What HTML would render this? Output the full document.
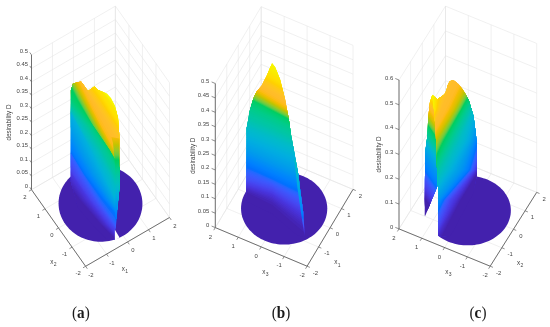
<!DOCTYPE html>
<html><head><meta charset="utf-8"><title>Figure</title>
<style>
html,body{margin:0;padding:0;background:#fff;}
body{width:550px;height:327px;overflow:hidden;}
svg{display:block;}
svg text{font-family:"Liberation Sans",Arial,Helvetica,sans-serif;}
svg text.cap{font-family:"Liberation Serif","Times New Roman",serif;}
</style></head><body>
<svg width="550" height="327" viewBox="0 0 550 327">
<defs>
<clipPath id="c1"><polygon points="70.9,182 70.9,90 73,83.6 81,81.4 83,84 88,91 94.4,86.4 98,90 107,93.6 111,98 115,106 118,118 119.3,135 119.8,185 114.9,229.8 114.9,239.2 100,238 80,215"/></clipPath>
<linearGradient id="g2" gradientUnits="userSpaceOnUse" x1="0" y1="240" x2="0" y2="134"><stop offset="0" stop-color="#4321ad"/><stop offset="0.0142" stop-color="#4628c0"/><stop offset="0.0283" stop-color="#4830d1"/><stop offset="0.0509" stop-color="#4838e1"/><stop offset="0.0736" stop-color="#4742ed"/><stop offset="0.0962" stop-color="#444cf5"/><stop offset="0.1189" stop-color="#3e56fb"/><stop offset="0.1415" stop-color="#355fff"/><stop offset="0.173" stop-color="#2369ff"/><stop offset="0.2044" stop-color="#0073ff"/><stop offset="0.2358" stop-color="#007dff"/><stop offset="0.2673" stop-color="#0086fc"/><stop offset="0.2987" stop-color="#008ff5"/><stop offset="0.3302" stop-color="#0097ef"/><stop offset="0.3679" stop-color="#00a0e9"/><stop offset="0.4057" stop-color="#00a9e4"/><stop offset="0.4434" stop-color="#00b1db"/><stop offset="0.4811" stop-color="#00b7d0"/><stop offset="0.5189" stop-color="#00bdc3"/><stop offset="0.5566" stop-color="#00c1b7"/><stop offset="0.5943" stop-color="#00c4a9"/><stop offset="0.6321" stop-color="#00c89a"/><stop offset="0.6698" stop-color="#00cc89"/><stop offset="0.7075" stop-color="#00cd75"/><stop offset="0.7547" stop-color="#00ce5c"/><stop offset="0.8019" stop-color="#68cc42"/><stop offset="0.8491" stop-color="#9ac924"/><stop offset="0.8962" stop-color="#c1c400"/><stop offset="0.9308" stop-color="#ddc000"/><stop offset="0.9654" stop-color="#f5bc05"/><stop offset="1" stop-color="#ffbb26"/></linearGradient>
<clipPath id="c3"><polygon points="246.6,200 246.6,128 247.1,125.9 249.6,111.2 253.2,99 256.4,91.7 261.8,85.6 266.7,75.8 272.1,63.1 275.2,67.2 280.1,79.4 285,99 288.7,118.6 291.1,135 298.3,174 300.2,190 303.3,212.5 304.8,237 300,236 270,225 250,208"/></clipPath>
<linearGradient id="g4" gradientUnits="userSpaceOnUse" x1="0" y1="238" x2="0" y2="150"><stop offset="0" stop-color="#4321ad"/><stop offset="0.0341" stop-color="#462ac3"/><stop offset="0.0682" stop-color="#4833d8"/><stop offset="0.0909" stop-color="#483ce6"/><stop offset="0.1136" stop-color="#4646f1"/><stop offset="0.1364" stop-color="#4150f8"/><stop offset="0.1676" stop-color="#3a5bfe"/><stop offset="0.1989" stop-color="#2c65ff"/><stop offset="0.2301" stop-color="#0070ff"/><stop offset="0.2614" stop-color="#007bff"/><stop offset="0.3182" stop-color="#0085fc"/><stop offset="0.375" stop-color="#008ef6"/><stop offset="0.4318" stop-color="#0097ef"/><stop offset="0.4886" stop-color="#009eea"/><stop offset="0.5455" stop-color="#00a5e6"/><stop offset="0.6023" stop-color="#00ace1"/><stop offset="0.6591" stop-color="#00b1da"/><stop offset="0.7159" stop-color="#00b7d1"/><stop offset="0.7727" stop-color="#00bbc8"/><stop offset="0.8485" stop-color="#00bfbc"/><stop offset="0.9242" stop-color="#00c3af"/><stop offset="1" stop-color="#00c6a2"/></linearGradient>
<clipPath id="cdisk"><rect x="438" y="100" width="120" height="200"/></clipPath>
<clipPath id="c5"><polygon points="424.7,215.8 425.3,215.8 437.6,185.8 438.2,185 438.2,100 437.6,99.2 432.3,94.8 429.9,102.5 428.2,117.2 427.5,135 425.5,150 424.9,180"/></clipPath>
<clipPath id="c6"><polygon points="438,186 437.6,185 436.5,156 435.7,130.4 434,110 432.3,94.8 434.5,96.8 437.6,99.2 440,97.5 442.6,95.7 444.5,94.3 446.3,90.7 447.7,85.2 449.5,81.5 452.3,79.9 455,81 458.7,84.3 462,88.4 465.5,94 468.9,100.6 473.5,116 476,135 476.9,150 476.6,176 472,200 465,215 450,236 441,236.5 438,235.5"/></clipPath>
</defs>
<rect x="0" y="0" width="550" height="327" fill="#ffffff"/>
<line x1="85.6" y1="266.3" x2="31.5" y2="189.7" stroke="#e3e3e3" stroke-width="0.55"/>
<line x1="85.6" y1="266.3" x2="169.5" y2="217.5" stroke="#e3e3e3" stroke-width="0.55"/>
<line x1="31.5" y1="189.7" x2="31.5" y2="54.9" stroke="#e3e3e3" stroke-width="0.55"/>
<line x1="169.5" y1="217.5" x2="169.5" y2="82.7" stroke="#e3e3e3" stroke-width="0.55"/>
<line x1="106.57" y1="254.1" x2="52.48" y2="177.5" stroke="#e3e3e3" stroke-width="0.55"/>
<line x1="72.07" y1="247.15" x2="155.97" y2="198.35" stroke="#e3e3e3" stroke-width="0.55"/>
<line x1="52.48" y1="177.5" x2="52.48" y2="42.7" stroke="#e3e3e3" stroke-width="0.55"/>
<line x1="155.97" y1="198.35" x2="155.97" y2="63.55" stroke="#e3e3e3" stroke-width="0.55"/>
<line x1="127.55" y1="241.9" x2="73.45" y2="165.3" stroke="#e3e3e3" stroke-width="0.55"/>
<line x1="58.55" y1="228" x2="142.45" y2="179.2" stroke="#e3e3e3" stroke-width="0.55"/>
<line x1="73.45" y1="165.3" x2="73.45" y2="30.5" stroke="#e3e3e3" stroke-width="0.55"/>
<line x1="142.45" y1="179.2" x2="142.45" y2="44.4" stroke="#e3e3e3" stroke-width="0.55"/>
<line x1="148.53" y1="229.7" x2="94.43" y2="153.1" stroke="#e3e3e3" stroke-width="0.55"/>
<line x1="45.02" y1="208.85" x2="128.93" y2="160.05" stroke="#e3e3e3" stroke-width="0.55"/>
<line x1="94.43" y1="153.1" x2="94.43" y2="18.3" stroke="#e3e3e3" stroke-width="0.55"/>
<line x1="128.93" y1="160.05" x2="128.93" y2="25.25" stroke="#e3e3e3" stroke-width="0.55"/>
<line x1="169.5" y1="217.5" x2="115.4" y2="140.9" stroke="#e3e3e3" stroke-width="0.55"/>
<line x1="31.5" y1="189.7" x2="115.4" y2="140.9" stroke="#e3e3e3" stroke-width="0.55"/>
<line x1="115.4" y1="140.9" x2="115.4" y2="6.1" stroke="#e3e3e3" stroke-width="0.55"/>
<line x1="115.4" y1="140.9" x2="115.4" y2="6.1" stroke="#e3e3e3" stroke-width="0.55"/>
<line x1="31.5" y1="189.7" x2="115.4" y2="140.9" stroke="#e3e3e3" stroke-width="0.55"/>
<line x1="115.4" y1="140.9" x2="169.5" y2="217.5" stroke="#e3e3e3" stroke-width="0.55"/>
<line x1="31.5" y1="176.22" x2="115.4" y2="127.42" stroke="#e3e3e3" stroke-width="0.55"/>
<line x1="115.4" y1="127.42" x2="169.5" y2="204.02" stroke="#e3e3e3" stroke-width="0.55"/>
<line x1="31.5" y1="162.74" x2="115.4" y2="113.94" stroke="#e3e3e3" stroke-width="0.55"/>
<line x1="115.4" y1="113.94" x2="169.5" y2="190.54" stroke="#e3e3e3" stroke-width="0.55"/>
<line x1="31.5" y1="149.26" x2="115.4" y2="100.46" stroke="#e3e3e3" stroke-width="0.55"/>
<line x1="115.4" y1="100.46" x2="169.5" y2="177.06" stroke="#e3e3e3" stroke-width="0.55"/>
<line x1="31.5" y1="135.78" x2="115.4" y2="86.98" stroke="#e3e3e3" stroke-width="0.55"/>
<line x1="115.4" y1="86.98" x2="169.5" y2="163.58" stroke="#e3e3e3" stroke-width="0.55"/>
<line x1="31.5" y1="122.3" x2="115.4" y2="73.5" stroke="#e3e3e3" stroke-width="0.55"/>
<line x1="115.4" y1="73.5" x2="169.5" y2="150.1" stroke="#e3e3e3" stroke-width="0.55"/>
<line x1="31.5" y1="108.82" x2="115.4" y2="60.02" stroke="#e3e3e3" stroke-width="0.55"/>
<line x1="115.4" y1="60.02" x2="169.5" y2="136.62" stroke="#e3e3e3" stroke-width="0.55"/>
<line x1="31.5" y1="95.34" x2="115.4" y2="46.54" stroke="#e3e3e3" stroke-width="0.55"/>
<line x1="115.4" y1="46.54" x2="169.5" y2="123.14" stroke="#e3e3e3" stroke-width="0.55"/>
<line x1="31.5" y1="81.86" x2="115.4" y2="33.06" stroke="#e3e3e3" stroke-width="0.55"/>
<line x1="115.4" y1="33.06" x2="169.5" y2="109.66" stroke="#e3e3e3" stroke-width="0.55"/>
<line x1="31.5" y1="68.38" x2="115.4" y2="19.58" stroke="#e3e3e3" stroke-width="0.55"/>
<line x1="115.4" y1="19.58" x2="169.5" y2="96.18" stroke="#e3e3e3" stroke-width="0.55"/>
<line x1="31.5" y1="54.9" x2="115.4" y2="6.1" stroke="#e3e3e3" stroke-width="0.55"/>
<line x1="115.4" y1="6.1" x2="169.5" y2="82.7" stroke="#e3e3e3" stroke-width="0.55"/>
<line x1="307.1" y1="266.2" x2="215.3" y2="227.6" stroke="#e3e3e3" stroke-width="0.55"/>
<line x1="307.1" y1="266.2" x2="353" y2="189.4" stroke="#e3e3e3" stroke-width="0.55"/>
<line x1="215.3" y1="227.6" x2="215.3" y2="83.5" stroke="#e3e3e3" stroke-width="0.55"/>
<line x1="353" y1="189.4" x2="353" y2="45.3" stroke="#e3e3e3" stroke-width="0.55"/>
<line x1="318.58" y1="247" x2="226.78" y2="208.4" stroke="#e3e3e3" stroke-width="0.55"/>
<line x1="284.15" y1="256.55" x2="330.05" y2="179.75" stroke="#e3e3e3" stroke-width="0.55"/>
<line x1="226.78" y1="208.4" x2="226.78" y2="64.3" stroke="#e3e3e3" stroke-width="0.55"/>
<line x1="330.05" y1="179.75" x2="330.05" y2="35.65" stroke="#e3e3e3" stroke-width="0.55"/>
<line x1="330.05" y1="227.8" x2="238.25" y2="189.2" stroke="#e3e3e3" stroke-width="0.55"/>
<line x1="261.2" y1="246.9" x2="307.1" y2="170.1" stroke="#e3e3e3" stroke-width="0.55"/>
<line x1="238.25" y1="189.2" x2="238.25" y2="45.1" stroke="#e3e3e3" stroke-width="0.55"/>
<line x1="307.1" y1="170.1" x2="307.1" y2="26" stroke="#e3e3e3" stroke-width="0.55"/>
<line x1="341.52" y1="208.6" x2="249.72" y2="170" stroke="#e3e3e3" stroke-width="0.55"/>
<line x1="238.25" y1="237.25" x2="284.15" y2="160.45" stroke="#e3e3e3" stroke-width="0.55"/>
<line x1="249.72" y1="170" x2="249.72" y2="25.9" stroke="#e3e3e3" stroke-width="0.55"/>
<line x1="284.15" y1="160.45" x2="284.15" y2="16.35" stroke="#e3e3e3" stroke-width="0.55"/>
<line x1="353" y1="189.4" x2="261.2" y2="150.8" stroke="#e3e3e3" stroke-width="0.55"/>
<line x1="215.3" y1="227.6" x2="261.2" y2="150.8" stroke="#e3e3e3" stroke-width="0.55"/>
<line x1="261.2" y1="150.8" x2="261.2" y2="6.7" stroke="#e3e3e3" stroke-width="0.55"/>
<line x1="261.2" y1="150.8" x2="261.2" y2="6.7" stroke="#e3e3e3" stroke-width="0.55"/>
<line x1="215.3" y1="227.6" x2="261.2" y2="150.8" stroke="#e3e3e3" stroke-width="0.55"/>
<line x1="261.2" y1="150.8" x2="353" y2="189.4" stroke="#e3e3e3" stroke-width="0.55"/>
<line x1="215.3" y1="213.19" x2="261.2" y2="136.39" stroke="#e3e3e3" stroke-width="0.55"/>
<line x1="261.2" y1="136.39" x2="353" y2="174.99" stroke="#e3e3e3" stroke-width="0.55"/>
<line x1="215.3" y1="198.78" x2="261.2" y2="121.98" stroke="#e3e3e3" stroke-width="0.55"/>
<line x1="261.2" y1="121.98" x2="353" y2="160.58" stroke="#e3e3e3" stroke-width="0.55"/>
<line x1="215.3" y1="184.37" x2="261.2" y2="107.57" stroke="#e3e3e3" stroke-width="0.55"/>
<line x1="261.2" y1="107.57" x2="353" y2="146.17" stroke="#e3e3e3" stroke-width="0.55"/>
<line x1="215.3" y1="169.96" x2="261.2" y2="93.16" stroke="#e3e3e3" stroke-width="0.55"/>
<line x1="261.2" y1="93.16" x2="353" y2="131.76" stroke="#e3e3e3" stroke-width="0.55"/>
<line x1="215.3" y1="155.55" x2="261.2" y2="78.75" stroke="#e3e3e3" stroke-width="0.55"/>
<line x1="261.2" y1="78.75" x2="353" y2="117.35" stroke="#e3e3e3" stroke-width="0.55"/>
<line x1="215.3" y1="141.14" x2="261.2" y2="64.34" stroke="#e3e3e3" stroke-width="0.55"/>
<line x1="261.2" y1="64.34" x2="353" y2="102.94" stroke="#e3e3e3" stroke-width="0.55"/>
<line x1="215.3" y1="126.73" x2="261.2" y2="49.93" stroke="#e3e3e3" stroke-width="0.55"/>
<line x1="261.2" y1="49.93" x2="353" y2="88.53" stroke="#e3e3e3" stroke-width="0.55"/>
<line x1="215.3" y1="112.32" x2="261.2" y2="35.52" stroke="#e3e3e3" stroke-width="0.55"/>
<line x1="261.2" y1="35.52" x2="353" y2="74.12" stroke="#e3e3e3" stroke-width="0.55"/>
<line x1="215.3" y1="97.91" x2="261.2" y2="21.11" stroke="#e3e3e3" stroke-width="0.55"/>
<line x1="261.2" y1="21.11" x2="353" y2="59.71" stroke="#e3e3e3" stroke-width="0.55"/>
<line x1="215.3" y1="83.5" x2="261.2" y2="6.7" stroke="#e3e3e3" stroke-width="0.55"/>
<line x1="261.2" y1="6.7" x2="353" y2="45.3" stroke="#e3e3e3" stroke-width="0.55"/>
<line x1="490.2" y1="266.2" x2="399" y2="228.9" stroke="#e3e3e3" stroke-width="0.55"/>
<line x1="490.2" y1="266.2" x2="536.7" y2="192.35" stroke="#e3e3e3" stroke-width="0.55"/>
<line x1="399" y1="228.9" x2="399" y2="80" stroke="#e3e3e3" stroke-width="0.55"/>
<line x1="536.7" y1="192.35" x2="536.7" y2="43.45" stroke="#e3e3e3" stroke-width="0.55"/>
<line x1="501.82" y1="247.74" x2="410.62" y2="210.44" stroke="#e3e3e3" stroke-width="0.55"/>
<line x1="467.4" y1="256.88" x2="513.9" y2="183.03" stroke="#e3e3e3" stroke-width="0.55"/>
<line x1="410.62" y1="210.44" x2="410.62" y2="61.54" stroke="#e3e3e3" stroke-width="0.55"/>
<line x1="513.9" y1="183.03" x2="513.9" y2="34.12" stroke="#e3e3e3" stroke-width="0.55"/>
<line x1="513.45" y1="229.27" x2="422.25" y2="191.98" stroke="#e3e3e3" stroke-width="0.55"/>
<line x1="444.6" y1="247.55" x2="491.1" y2="173.7" stroke="#e3e3e3" stroke-width="0.55"/>
<line x1="422.25" y1="191.98" x2="422.25" y2="43.08" stroke="#e3e3e3" stroke-width="0.55"/>
<line x1="491.1" y1="173.7" x2="491.1" y2="24.8" stroke="#e3e3e3" stroke-width="0.55"/>
<line x1="525.08" y1="210.81" x2="433.88" y2="173.51" stroke="#e3e3e3" stroke-width="0.55"/>
<line x1="421.8" y1="238.22" x2="468.3" y2="164.38" stroke="#e3e3e3" stroke-width="0.55"/>
<line x1="433.88" y1="173.51" x2="433.88" y2="24.61" stroke="#e3e3e3" stroke-width="0.55"/>
<line x1="468.3" y1="164.38" x2="468.3" y2="15.47" stroke="#e3e3e3" stroke-width="0.55"/>
<line x1="536.7" y1="192.35" x2="445.5" y2="155.05" stroke="#e3e3e3" stroke-width="0.55"/>
<line x1="399" y1="228.9" x2="445.5" y2="155.05" stroke="#e3e3e3" stroke-width="0.55"/>
<line x1="445.5" y1="155.05" x2="445.5" y2="6.15" stroke="#e3e3e3" stroke-width="0.55"/>
<line x1="445.5" y1="155.05" x2="445.5" y2="6.15" stroke="#e3e3e3" stroke-width="0.55"/>
<line x1="399" y1="228.9" x2="445.5" y2="155.05" stroke="#e3e3e3" stroke-width="0.55"/>
<line x1="445.5" y1="155.05" x2="536.7" y2="192.35" stroke="#e3e3e3" stroke-width="0.55"/>
<line x1="399" y1="204.08" x2="445.5" y2="130.23" stroke="#e3e3e3" stroke-width="0.55"/>
<line x1="445.5" y1="130.23" x2="536.7" y2="167.53" stroke="#e3e3e3" stroke-width="0.55"/>
<line x1="399" y1="179.27" x2="445.5" y2="105.42" stroke="#e3e3e3" stroke-width="0.55"/>
<line x1="445.5" y1="105.42" x2="536.7" y2="142.72" stroke="#e3e3e3" stroke-width="0.55"/>
<line x1="399" y1="154.45" x2="445.5" y2="80.6" stroke="#e3e3e3" stroke-width="0.55"/>
<line x1="445.5" y1="80.6" x2="536.7" y2="117.9" stroke="#e3e3e3" stroke-width="0.55"/>
<line x1="399" y1="129.63" x2="445.5" y2="55.78" stroke="#e3e3e3" stroke-width="0.55"/>
<line x1="445.5" y1="55.78" x2="536.7" y2="93.08" stroke="#e3e3e3" stroke-width="0.55"/>
<line x1="399" y1="104.82" x2="445.5" y2="30.97" stroke="#e3e3e3" stroke-width="0.55"/>
<line x1="445.5" y1="30.97" x2="536.7" y2="68.27" stroke="#e3e3e3" stroke-width="0.55"/>
<line x1="399" y1="80" x2="445.5" y2="6.15" stroke="#e3e3e3" stroke-width="0.55"/>
<line x1="445.5" y1="6.15" x2="536.7" y2="43.45" stroke="#e3e3e3" stroke-width="0.55"/>
<polygon points="135.74,183.1 134.5,181.45 133.17,179.85 131.75,178.32 130.24,176.86 128.66,175.48 126.99,174.17 125.25,172.94 123.45,171.79 121.58,170.73 119.66,169.76 117.68,168.89 115.65,168.11 113.59,167.43 111.48,166.84 109.35,166.36 107.19,165.98 105.02,165.7 102.83,165.53 100.64,165.46 98.44,165.49 96.25,165.63 94.08,165.87 91.92,166.22 89.78,166.67 87.67,167.22 85.6,167.87 83.57,168.62 81.59,169.46 79.65,170.4 77.78,171.43 75.96,172.54 74.22,173.75 72.55,175.03 70.95,176.39 69.43,177.83 68,179.34 66.66,180.91 65.41,182.55 64.26,184.24 63.2,185.99 62.25,187.78 61.41,189.62 60.67,191.5 60.04,193.41 59.52,195.34 59.11,197.3 58.82,199.28 58.64,201.27 58.57,203.27 58.62,205.26 58.79,207.26 59.07,209.24 59.46,211.21 59.97,213.15 60.58,215.07 61.31,216.96 62.14,218.81 63.08,220.62 64.12,222.38 65.26,224.1 66.5,225.75 67.83,227.35 69.25,228.88 70.76,230.34 72.34,231.72 74.01,233.03 75.75,234.26 77.55,235.41 79.42,236.47 81.34,237.44 83.32,238.31 85.35,239.09 87.41,239.77 89.52,240.36 91.65,240.84 93.81,241.22 95.98,241.5 98.17,241.67 100.36,241.74 102.56,241.71 104.75,241.57 106.92,241.33 109.08,240.98 111.22,240.53 113.33,239.98 115.4,239.33 117.43,238.58 119.41,237.74 121.35,236.8 123.22,235.77 125.04,234.66 126.78,233.45 128.45,232.17 130.05,230.81 131.57,229.37 133,227.86 134.34,226.29 135.59,224.65 136.74,222.96 137.8,221.21 138.75,219.42 139.59,217.58 140.33,215.7 140.96,213.79 141.48,211.86 141.89,209.9 142.18,207.92 142.36,205.93 142.43,203.93 142.38,201.94 142.21,199.94 141.93,197.96 141.54,195.99 141.03,194.05 140.42,192.13 139.69,190.24 138.86,188.39 137.92,186.58 136.88,184.82" fill="#4321ad"/>
<g clip-path="url(#c1)">
<polygon points="300,65 73.15,65 81.72,75 103.14,100 120.81,125 134.74,150 144.92,175 151.35,200 154.04,225 164.13,245 169.18,255 300,255" fill="#f9fb00"/>
<polygon points="82.03,65 90.47,75 111.59,100 129.23,125 143.18,150 153.42,175 159.95,200 162.77,225 173.12,245 178.29,255 169.29,255 164.12,245 153.77,225 150.95,200 144.42,175 134.18,150 120.23,125 102.59,100 81.47,75 73.03,65" fill="#f8f700"/>
<polygon points="81.78,65 89.98,75 110.48,100 128.09,125 142.06,150 152.42,175 159.14,200 162.24,225 173.1,245 178.53,255 169.53,255 164.1,245 153.24,225 150.14,200 143.42,175 133.06,150 119.09,125 101.48,100 80.98,75 72.78,65" fill="#f8f300"/>
<polygon points="81.56,65 89.53,75 109.47,100 126.99,125 140.97,150 151.42,175 158.33,200 161.73,225 173.08,245 178.75,255 169.75,255 164.08,245 152.73,225 149.33,200 142.42,175 131.97,150 117.99,125 100.47,100 80.53,75 72.56,65" fill="#f8f000"/>
<polygon points="81.6,65 89.51,75 109.3,100 126.37,125 140.09,150 150.45,175 157.47,200 161.4,225 173.06,245 178.89,255 169.89,255 164.06,245 152.4,225 148.47,200 141.45,175 131.09,150 117.37,125 100.3,100 80.51,75 72.6,65" fill="#f9ec00"/>
<polygon points="81.64,65 89.49,75 109.13,100 125.75,125 139.2,150 149.49,175 156.61,200 161.06,225 173.04,245 179.02,255 170.02,255 164.04,245 152.06,225 147.61,200 140.49,175 130.2,150 116.75,125 100.13,100 80.49,75 72.64,65" fill="#fae800"/>
<polygon points="81.31,65 88.88,75 107.81,100 123.94,125 137.28,150 147.83,175 155.58,200 160.95,225 173.02,245 179.05,255 170.05,255 164.02,245 151.95,225 146.58,200 138.83,175 128.28,150 114.94,125 98.81,100 79.88,75 72.31,65" fill="#fce400"/>
<polygon points="80.81,65 88.01,75 105.99,100 121.63,125 134.93,150 145.88,175 154.49,200 160.93,225 172.99,245 179.03,255 170.03,255 163.99,245 151.93,225 145.49,200 136.88,175 125.93,150 112.63,125 96.99,100 79.01,75 71.81,65" fill="#ffe000"/>
<polygon points="80.05,65 87.01,75 104.39,100 119.73,125 133.03,150 144.29,175 153.51,200 160.76,225 172.97,245 179.08,255 170.08,255 163.97,245 151.76,225 144.51,200 135.29,175 124.03,150 110.73,125 95.39,100 78.01,75 71.05,65" fill="#ffdc00"/>
<polygon points="78.67,65 85.7,75 103.28,100 118.78,125 132.2,150 143.54,175 152.79,200 160.24,225 172.95,245 179.31,255 170.31,255 163.95,245 151.24,225 143.79,200 134.54,175 123.2,150 109.78,125 94.28,100 76.7,75 69.67,65" fill="#ffd800"/>
<polygon points="77.28,65 84.4,75 102.17,100 117.83,125 131.37,150 142.78,175 152.08,200 159.72,225 172.93,245 179.54,255 170.54,255 163.93,245 150.72,225 143.08,200 133.78,175 122.37,150 108.83,125 93.17,100 75.4,75 68.28,65" fill="#ffd300"/>
<polygon points="75.49,65 82.76,75 100.94,100 116.9,125 130.62,150 142.13,175 151.4,200 159.65,225 172.91,245 179.54,255 170.54,255 163.91,245 150.65,225 142.4,200 133.13,175 121.62,150 107.9,125 91.94,100 73.76,75 66.49,65" fill="#ffcf02"/>
<polygon points="73.65,65 81.09,75 99.7,100 115.96,125 129.89,150 141.48,175 150.73,200 159.63,225 172.89,245 179.52,255 170.52,255 163.89,245 150.63,225 141.73,200 132.48,175 120.89,150 106.96,125 90.7,100 72.09,75 64.65,65" fill="#ffcb0f"/>
<polygon points="72.14,65 79.56,75 98.1,100 114.63,125 128.8,150 140.59,175 150,200 159.61,225 172.87,245 179.5,255 170.5,255 163.87,245 150.61,225 141,200 131.59,175 119.8,150 105.63,125 89.1,100 70.56,75 63.14,65" fill="#ffc719"/>
<polygon points="70.97,65 78.16,75 96.15,100 112.91,125 127.34,150 139.44,175 149.21,200 159.59,225 172.85,245 179.48,255 170.48,255 163.85,245 150.59,225 140.21,200 130.44,175 118.34,150 103.91,125 87.15,100 69.16,75 61.97,65" fill="#ffc421"/>
<polygon points="69.96,65 76.91,75 94.26,100 111.11,125 125.75,150 138.17,175 148.39,200 159.57,225 172.83,245 179.46,255 170.46,255 163.83,245 150.57,225 139.39,200 129.17,175 116.75,150 102.11,125 85.26,100 67.91,75 60.96,65" fill="#ffc027"/>
<polygon points="70.47,65 76.88,75 92.92,100 108.56,125 122.84,150 135.77,175 147.35,200 159.54,225 172.81,245 179.44,255 170.44,255 163.81,245 150.54,225 138.35,200 126.77,175 113.84,150 99.56,125 83.92,100 67.88,75 61.47,65" fill="#ffbd29"/>
<polygon points="70.98,65 76.86,75 91.57,100 106.01,125 119.94,150 133.37,175 146.31,200 159.52,225 172.79,245 179.42,255 170.42,255 163.79,245 150.52,225 137.31,200 124.37,175 110.94,150 97.01,125 82.57,100 67.86,75 61.98,65" fill="#ffbc28"/>
<polygon points="71.03,65 76.49,75 90.15,100 103.86,125 117.62,150 131.43,175 145.29,200 159.5,225 172.77,245 179.4,255 170.4,255 163.77,245 150.5,225 136.29,200 122.43,175 108.62,150 94.86,125 81.15,100 67.49,75 62.03,65" fill="#ffbb20"/>
<polygon points="70.88,65 75.97,75 88.69,100 101.88,125 115.54,150 129.68,175 144.28,200 159.48,225 172.74,245 179.38,255 170.38,255 163.74,245 150.48,225 135.28,200 120.68,175 106.54,150 92.88,125 79.69,100 66.97,75 61.88,65" fill="#fcbc14"/>
<polygon points="70.44,65 75.3,75 87.44,100 100.32,125 113.94,150 128.3,175 143.39,200 159.23,225 172.42,245 179.02,255 170.02,255 163.42,245 150.23,225 134.39,200 119.3,175 104.94,150 91.32,125 78.44,100 66.3,75 61.44,65" fill="#f4bd03"/>
<polygon points="69.33,65 74.29,75 86.69,100 99.73,125 113.43,150 127.78,175 142.77,200 158.42,225 171.41,245 177.9,255 168.9,255 162.41,245 149.42,225 133.77,200 118.78,175 104.43,150 90.73,125 77.69,100 65.29,75 60.33,65" fill="#ebbe00"/>
<polygon points="68.22,65 73.28,75 85.93,100 99.15,125 112.92,150 127.26,175 142.16,200 157.62,225 170.39,245 176.77,255 167.77,255 161.39,245 148.62,225 133.16,200 118.26,175 103.92,150 90.15,125 76.93,100 64.28,75 59.22,65" fill="#e1bf00"/>
<polygon points="67.41,65 72.5,75 85.24,100 98.52,125 112.32,150 126.66,175 141.53,200 156.94,225 169.64,245 176,255 167,255 160.64,245 147.94,225 132.53,200 117.66,175 103.32,150 89.52,125 76.24,100 63.5,75 58.41,65" fill="#d7c100"/>
<polygon points="66.63,65 71.75,75 84.56,100 97.88,125 111.71,150 126.05,175 140.91,200 156.27,225 168.93,245 175.26,255 166.26,255 159.93,245 147.27,225 131.91,200 117.05,175 102.71,150 88.88,125 75.56,100 62.75,75 57.63,65" fill="#ccc300"/>
<polygon points="65.91,65 71.06,75 83.93,100 97.28,125 111.12,150 125.44,175 140.25,200 155.54,225 168.12,245 174.41,255 165.41,255 159.12,245 146.54,225 131.25,200 116.44,175 102.12,150 88.28,125 74.93,100 62.06,75 56.91,65" fill="#c1c400"/>
<polygon points="65.24,65 70.41,75 83.34,100 96.72,125 110.55,150 124.83,175 139.56,200 154.74,225 167.21,245 173.44,255 164.44,255 158.21,245 145.74,225 130.56,200 115.83,175 101.55,150 87.72,125 74.34,100 61.41,75 56.24,65" fill="#b4c60c"/>
<polygon points="64.58,65 69.77,75 82.76,100 96.16,125 110.02,150 124.26,175 138.87,200 153.94,225 166.3,245 172.47,255 163.47,255 157.3,245 144.94,225 129.87,200 115.26,175 101.02,150 87.16,125 73.76,100 60.77,75 55.58,65" fill="#a6c71a"/>
<polygon points="63.91,65 69.13,75 82.17,100 95.6,125 109.83,150 124.1,175 138.18,200 153.14,225 165.38,245 171.5,255 162.5,255 156.38,245 144.14,225 129.18,200 115.1,175 100.83,150 86.6,125 73.17,100 60.13,75 54.91,65" fill="#98c926"/>
<polygon points="63.24,65 68.48,75 81.59,100 95.04,125 109.64,150 123.93,175 137.5,200 152.34,225 164.47,245 170.54,255 161.54,255 155.47,245 143.34,225 128.5,200 114.93,175 100.64,150 86.04,125 72.59,100 59.48,75 54.24,65" fill="#88ca30"/>
<polygon points="62.64,65 67.86,75 80.9,100 94.3,125 109.57,150 123.87,175 136.75,200 151.62,225 163.79,245 169.88,255 160.88,255 154.79,245 142.62,225 127.75,200 114.87,175 100.57,150 85.3,125 71.9,100 58.86,75 53.64,65" fill="#76cb3b"/>
<polygon points="62.08,65 67.24,75 80.16,100 93.49,125 109.55,150 123.85,175 135.99,200 150.93,225 163.21,245 169.35,255 160.35,255 154.21,245 141.93,225 126.99,200 114.85,175 100.55,150 84.49,125 71.16,100 58.24,75 53.08,65" fill="#62cc45"/>
<polygon points="61.49,65 66.61,75 79.41,100 92.86,125 109.53,150 123.83,175 135.45,200 150.26,225 162.66,245 168.86,255 159.86,255 153.66,245 141.26,225 126.45,200 114.83,175 100.53,150 83.86,125 70.41,100 57.61,75 52.49,65" fill="#49cd4e"/>
<polygon points="60.87,65 65.94,75 78.62,100 92.69,125 109.51,150 123.81,175 135.43,200 149.63,225 162.18,245 168.45,255 159.45,255 153.18,245 140.63,225 126.43,200 114.81,175 100.51,150 83.69,125 69.62,100 56.94,75 51.87,65" fill="#22ce57"/>
<polygon points="60.25,65 65.27,75 77.83,100 92.52,125 109.49,150 123.79,175 135.4,200 149.01,225 161.7,245 168.04,255 159.04,255 152.7,245 140.01,225 126.4,200 114.79,175 100.49,150 83.52,125 68.83,100 56.27,75 51.25,65" fill="#00ce60"/>
<polygon points="53.18,65 59.67,75 75.89,100 92.48,125 109.47,150 123.77,175 135.38,200 147.2,225 157.1,245 162.04,255 153.04,255 148.1,245 138.2,225 126.38,200 114.77,175 100.47,150 83.48,125 66.89,100 50.67,75 44.18,65" fill="#00ce69"/>
<polygon points="45.4,65 53.52,75 73.82,100 92.46,125 109.44,150 123.74,175 135.36,200 145.26,225 152.04,245 155.43,255 146.43,255 143.04,245 136.26,225 126.36,200 114.74,175 100.44,150 83.46,125 64.82,100 44.52,75 36.4,65" fill="#00ce71"/>
<polygon points="41.57,65 50.28,75 72.05,100 91.92,125 109.03,150 123.37,175 134.95,200 143.77,225 148.83,245 151.36,255 142.36,255 139.83,245 134.77,225 125.95,200 114.37,175 100.03,150 82.92,125 63.05,100 41.28,75 32.57,65" fill="#00cd79"/>
<polygon points="41.7,65 49.95,75 70.57,100 90.86,125 108.22,150 122.65,175 134.15,200 142.73,225 147.48,245 149.86,255 140.86,255 138.48,245 133.73,225 125.15,200 113.65,175 99.22,150 81.86,125 61.57,100 40.95,75 32.7,65" fill="#00cd80"/>
<polygon points="41.86,65 49.65,75 69.15,100 89.81,125 107.4,150 121.92,175 133.36,200 141.74,225 146.23,245 148.47,255 139.47,255 137.23,245 132.74,225 124.36,200 112.92,175 98.4,150 80.81,125 60.15,100 40.65,75 32.86,65" fill="#00cc88"/>
<polygon points="42.21,65 49.63,75 68.19,100 88.86,125 106.49,150 121.1,175 132.66,200 141.19,225 145.83,245 148.15,255 139.15,255 136.83,245 132.19,225 123.66,200 112.1,175 97.49,150 79.86,125 59.19,100 40.63,75 33.21,65" fill="#00cb8e"/>
<polygon points="42.57,65 49.61,75 67.22,100 87.91,125 105.59,150 120.27,175 131.96,200 140.64,225 145.43,245 147.82,255 138.82,255 136.43,245 131.64,225 122.96,200 111.27,175 96.59,150 78.91,125 58.22,100 40.61,75 33.57,65" fill="#00c995"/>
<polygon points="42.82,65 49.59,75 66.53,100 86.97,125 104.34,150 118.63,175 129.83,200 138.04,225 145.07,245 148.59,255 139.59,255 136.07,245 129.04,225 120.83,200 109.63,175 95.34,150 77.97,125 57.53,100 40.59,75 33.82,65" fill="#00c89b"/>
<polygon points="43.02,65 49.57,75 65.95,100 86.05,125 102.94,150 116.62,175 127.09,200 134.56,225 144.74,245 149.83,255 140.83,255 135.74,245 125.56,225 118.09,200 107.62,175 93.94,150 77.05,125 56.95,100 40.57,75 34.02,65" fill="#00c7a1"/>
<polygon points="43.23,65 49.55,75 65.35,100 85.11,125 101.68,150 115,175 125.05,200 132.12,225 144.5,245 150.69,255 141.69,255 135.5,245 123.12,225 116.05,200 106,175 92.68,150 76.11,125 56.35,100 40.55,75 34.23,65" fill="#00c5a6"/>
<polygon points="43.45,65 49.53,75 64.73,100 84.13,125 100.75,150 114.25,175 124.63,200 132.1,225 144.48,245 150.67,255 141.67,255 135.48,245 123.1,225 115.63,200 105.25,175 91.75,150 75.13,125 55.73,100 40.53,75 34.45,65" fill="#00c4ab"/>
<polygon points="43.67,65 49.51,75 64.11,100 83.14,125 99.81,150 113.5,175 124.2,200 132.08,225 144.46,245 150.65,255 141.65,255 135.46,245 123.08,225 115.2,200 104.5,175 90.81,150 74.14,125 55.11,100 40.51,75 34.67,65" fill="#00c2b1"/>
<polygon points="43.67,65 49.49,75 64.03,100 82.16,125 98.88,150 112.75,175 123.78,200 132.06,225 144.44,245 150.62,255 141.62,255 135.44,245 123.06,225 114.78,200 103.75,175 89.88,150 73.16,125 55.03,100 40.49,75 34.67,65" fill="#00c1b5"/>
<polygon points="43.65,65 49.47,75 64.01,100 81.18,125 97.94,150 112,175 123.36,200 132.04,225 144.42,245 150.6,255 141.6,255 135.42,245 123.04,225 114.36,200 103,175 88.94,150 72.18,125 55.01,100 40.47,75 34.65,65" fill="#00c0ba"/>
<polygon points="43.63,65 49.45,75 63.99,100 80.19,125 96.99,150 111.2,175 122.84,200 131.91,225 144.39,245 150.64,255 141.64,255 135.39,245 122.91,225 113.84,200 102.2,175 87.99,150 71.19,125 54.99,100 40.45,75 34.63,65" fill="#00bebf"/>
<polygon points="43.61,65 49.42,75 63.97,100 79.21,125 96.01,150 110.35,175 122.24,200 131.67,225 144.37,245 150.72,255 141.72,255 135.37,245 122.67,225 113.24,200 101.35,175 87.01,150 70.21,125 54.97,100 40.42,75 34.61,65" fill="#00bcc4"/>
<polygon points="43.59,65 49.4,75 63.95,100 78.31,125 95.01,150 109.45,175 121.55,200 131.34,225 144.35,245 150.86,255 141.86,255 135.35,245 122.34,225 112.55,200 100.45,175 86.01,150 69.31,125 54.95,100 40.4,75 34.59,65" fill="#00bbc8"/>
<polygon points="43.56,65 49.38,75 63.93,100 78.07,125 93.85,150 108.16,175 120.21,200 130.14,225 144.33,245 151.43,255 142.43,255 135.33,245 121.14,225 111.21,200 99.16,175 84.85,150 69.07,125 54.93,100 40.38,75 34.56,65" fill="#00b9cd"/>
<polygon points="43.54,65 49.36,75 63.91,100 77.83,125 92.69,150 106.88,175 118.86,200 128.95,225 144.31,245 151.99,255 142.99,255 135.31,245 119.95,225 109.86,200 97.88,175 83.69,150 68.83,125 54.91,100 40.36,75 34.54,65" fill="#00b7d1"/>
<polygon points="43.52,65 49.34,75 63.89,100 77.74,125 91.91,150 105.58,175 117.49,200 128.57,225 144.29,245 152.15,255 143.15,255 135.29,245 119.57,225 108.49,200 96.58,175 82.91,150 68.74,125 54.89,100 40.34,75 34.52,65" fill="#00b5d5"/>
<polygon points="43.5,65 49.32,75 63.86,100 77.72,125 91.3,150 104.27,175 116.11,200 128.55,225 144.27,245 152.13,255 143.13,255 135.27,245 119.55,225 107.11,200 95.27,175 82.3,150 68.72,125 54.86,100 40.32,75 34.5,65" fill="#00b2d9"/>
<polygon points="43.51,65 49.24,75 63.57,100 77.32,125 90.49,150 103.08,175 115.09,200 128.53,225 144.25,245 152.11,255 143.11,255 135.25,245 119.53,225 106.09,200 94.08,175 81.49,150 68.32,125 54.57,100 40.24,75 34.51,65" fill="#00b0dd"/>
<polygon points="43.57,65 49.02,75 62.64,100 76.04,125 89.23,150 102.19,175 114.93,200 128.51,225 144.23,245 152.09,255 143.09,255 135.23,245 119.51,225 105.93,200 93.19,175 80.23,150 67.04,125 53.64,100 40.02,75 34.57,65" fill="#00ade0"/>
<polygon points="43.63,65 48.8,75 61.71,100 74.77,125 87.96,150 101.3,175 114.78,200 128.49,225 144.21,245 152.07,255 143.07,255 135.21,245 119.49,225 105.78,200 92.3,175 78.96,150 65.77,125 52.71,100 39.8,75 34.63,65" fill="#00aae2"/>
<polygon points="43.2,65 48.2,75 60.72,100 73.58,125 86.76,150 100.28,175 114.14,200 128.32,225 144.19,245 152.12,255 143.12,255 135.19,245 119.32,225 105.14,200 91.28,175 77.76,150 64.58,125 51.72,100 39.2,75 34.2,65" fill="#00a7e5"/>
<polygon points="42.71,65 47.57,75 59.73,100 72.4,125 85.57,150 99.25,175 113.45,200 128.14,225 144.17,245 152.18,255 143.18,255 135.17,245 119.14,225 104.45,200 90.25,175 76.57,150 63.4,125 50.73,100 38.57,75 33.71,65" fill="#00a4e6"/>
<polygon points="42.2,65 46.93,75 58.73,100 71.22,125 84.38,150 98.23,175 112.75,200 127.96,225 144.14,245 152.24,255 143.24,255 135.14,245 118.96,225 103.75,200 89.23,175 75.38,150 62.22,125 49.73,100 37.93,75 33.2,65" fill="#00a1e8"/>
<polygon points="41.68,65 46.27,75 57.73,100 70.04,125 83.2,150 97.21,175 112.07,200 127.78,225 144.12,245 152.3,255 143.3,255 135.12,245 118.78,225 103.07,200 88.21,175 74.2,150 61.04,125 48.73,100 37.27,75 32.68,65" fill="#009eea"/>
<polygon points="41.17,65 45.62,75 56.73,100 68.86,125 82.01,150 96.19,175 111.38,200 127.59,225 144.1,245 152.36,255 143.36,255 135.1,245 118.59,225 102.38,200 87.19,175 73.01,150 59.86,125 47.73,100 36.62,75 32.17,65" fill="#009bec"/>
<polygon points="40.69,65 45,75 55.79,100 67.74,125 80.88,150 95.19,175 110.68,200 127.34,225 144.08,245 152.45,255 143.45,255 135.08,245 118.34,225 101.68,200 86.19,175 71.88,150 58.74,125 46.79,100 36,75 31.69,65" fill="#0098ee"/>
<polygon points="40.21,65 44.39,75 54.84,100 66.63,125 79.74,150 94.2,175 109.98,200 127.1,225 144.06,245 152.54,255 143.54,255 135.06,245 118.1,225 100.98,200 85.2,175 70.74,150 57.63,125 45.84,100 35.39,75 31.21,65" fill="#0095f1"/>
<polygon points="39.76,65 43.8,75 53.91,100 65.51,125 78.6,150 93.2,175 109.29,200 126.88,225 144.04,245 152.62,255 143.62,255 135.04,245 117.88,225 100.29,200 84.2,175 69.6,150 56.51,125 44.91,100 34.8,75 30.76,65" fill="#0091f3"/>
<polygon points="39.32,65 43.22,75 52.97,100 64.39,125 77.46,150 92.2,175 108.6,200 126.66,225 144.02,245 152.7,255 143.7,255 135.02,245 117.66,225 99.6,200 83.2,175 68.46,150 55.39,125 43.97,100 34.22,75 30.32,65" fill="#008ef6"/>
<polygon points="38.89,65 42.65,75 52.04,100 63.27,125 76.32,150 91.2,175 107.91,200 126.45,225 144,245 152.77,255 143.77,255 135,245 117.45,225 98.91,200 82.2,175 67.32,150 54.27,125 43.04,100 33.65,75 29.89,65" fill="#008af9"/>
<polygon points="38.46,65 42.08,75 51.11,100 62.15,125 75.18,150 90.2,175 107.22,200 126.24,225 143.98,245 152.85,255 143.85,255 134.98,245 117.24,225 98.22,200 81.2,175 66.18,150 53.15,125 42.11,100 33.08,75 29.46,65" fill="#0086fb"/>
<polygon points="38.04,65 41.51,75 50.19,100 61.03,125 74.03,150 89.2,175 106.53,200 126.03,225 143.96,245 152.92,255 143.92,255 134.96,245 117.03,225 97.53,200 80.2,175 65.03,150 52.03,125 41.19,100 32.51,75 29.04,65" fill="#0083fd"/>
<polygon points="37.59,65 40.93,75 49.25,100 59.91,125 72.89,150 88.21,175 105.85,200 125.82,225 143.94,245 152.99,255 143.99,255 134.94,245 116.82,225 96.85,200 79.21,175 63.89,150 50.91,125 40.25,100 31.93,75 28.59,65" fill="#007fff"/>
<polygon points="37.15,65 40.34,75 48.32,100 58.79,125 71.75,150 87.21,175 105.16,200 125.61,225 143.92,245 153.07,255 144.07,255 134.92,245 116.61,225 96.16,200 78.21,175 62.75,150 49.79,125 39.32,100 31.34,75 28.15,65" fill="#007bff"/>
<polygon points="36.8,65 39.87,75 47.54,100 57.83,125 70.75,150 86.29,175 104.45,200 125.24,225 143.77,245 153.03,255 144.03,255 134.77,245 116.24,225 95.45,200 77.29,175 61.75,150 48.83,125 38.54,100 30.87,75 27.8,65" fill="#0077ff"/>
<polygon points="36.55,65 39.51,75 46.91,100 57.04,125 69.88,150 85.44,175 103.73,200 124.73,225 143.49,245 152.87,255 143.87,255 134.49,245 115.73,225 94.73,200 76.44,175 60.88,150 48.04,125 37.91,100 30.51,75 27.55,65" fill="#0072ff"/>
<polygon points="35.96,65 38.89,75 46.22,100 56.29,125 69.09,150 84.64,175 102.92,200 123.94,225 142.72,245 152.12,255 143.12,255 133.72,245 114.94,225 93.92,200 75.64,175 60.09,150 47.29,125 37.22,100 29.89,75 26.96,65" fill="#086eff"/>
<polygon points="32.43,65 36,75 44.93,100 55.94,125 69.01,150 84.16,175 101.38,200 120.67,225 137.59,245 146.05,255 137.05,255 128.59,245 111.67,225 92.38,200 75.16,175 60.01,150 46.94,125 35.93,100 27,75 23.43,65" fill="#1f6aff"/>
<polygon points="28.9,65 33.12,75 43.65,100 55.59,125 68.93,150 83.68,175 99.83,200 117.4,225 132.46,245 139.99,255 130.99,255 123.46,245 108.4,225 90.83,200 74.68,175 59.93,150 46.59,125 34.65,100 24.12,75 19.9,65" fill="#2966ff"/>
<polygon points="27.49,65 31.84,75 42.69,100 54.82,125 68.22,150 82.89,175 98.83,200 116.04,225 130.72,245 138.06,255 129.06,255 121.72,245 107.04,225 89.83,200 73.89,175 59.22,150 45.82,125 33.69,100 22.84,75 18.49,65" fill="#3162ff"/>
<polygon points="26.99,65 31.24,75 41.88,100 53.87,125 67.23,150 81.96,175 98.05,200 115.5,225 130.45,245 137.92,255 128.92,255 121.45,245 106.5,225 89.05,200 72.96,175 58.23,150 44.87,125 32.88,100 22.24,75 17.99,65" fill="#365eff"/>
<polygon points="26.49,65 30.65,75 41.06,100 52.93,125 66.25,150 81.03,175 97.27,200 114.96,225 130.17,245 137.77,255 128.77,255 121.17,245 105.96,225 88.27,200 72.03,175 57.25,150 43.93,125 32.06,100 21.65,75 17.49,65" fill="#3a5afe"/>
<polygon points="25.98,65 30.06,75 40.24,100 51.98,125 65.27,150 80.1,175 96.49,200 114.43,225 129.89,245 137.62,255 128.62,255 120.89,245 105.43,225 87.49,200 71.1,175 56.27,150 42.98,125 31.24,100 21.06,75 16.98,65" fill="#3e56fc"/>
<polygon points="25.48,65 29.47,75 39.43,100 51.04,125 64.28,150 79.18,175 95.71,200 113.89,225 129.61,245 137.48,255 128.48,255 120.61,245 104.89,225 86.71,200 70.18,175 55.28,150 42.04,125 30.43,100 20.47,75 16.48,65" fill="#4053f9"/>
<polygon points="25.15,65 29,75 38.62,100 50.01,125 63.18,150 78.13,175 94.85,200 113.35,225 129.43,245 137.47,255 128.47,255 120.43,245 104.35,225 85.85,200 69.13,175 54.18,150 41.01,125 29.62,100 20,75 16.15,65" fill="#424ff7"/>
<polygon points="24.84,65 28.55,75 37.81,100 48.98,125 62.07,150 77.07,175 93.98,200 112.81,225 129.25,245 137.47,255 128.47,255 120.25,245 103.81,225 84.98,200 68.07,175 53.07,150 39.98,125 28.81,100 19.55,75 15.84,65" fill="#444bf4"/>
<polygon points="24.74,65 28.26,75 37.07,100 47.95,125 60.9,150 75.91,175 92.99,200 112.14,225 128.95,245 137.35,255 128.35,255 119.95,245 103.14,225 83.99,200 66.91,175 51.9,150 38.95,125 28.07,100 19.26,75 15.74,65" fill="#4647f1"/>
<polygon points="24.83,65 28.14,75 36.41,100 46.92,125 59.67,150 74.66,175 91.88,200 111.34,225 128.52,245 137.11,255 128.11,255 119.52,245 102.34,225 82.88,200 65.66,175 50.67,150 37.92,125 27.41,100 19.14,75 15.83,65" fill="#4743ed"/>
<polygon points="24.89,65 28,75 35.79,100 45.97,125 58.53,150 73.47,175 90.8,200 110.51,225 128,245 136.74,255 127.74,255 119,245 101.51,225 81.8,200 64.47,175 49.53,150 36.97,125 26.79,100 19,75 15.89,65" fill="#483fe9"/>
<polygon points="24.52,65 27.66,75 35.5,100 45.66,125 58.14,150 72.93,175 90.04,200 109.46,225 126.67,245 135.27,255 126.27,255 117.67,245 100.46,225 81.04,200 63.93,175 49.14,150 36.66,125 26.5,100 18.66,75 15.52,65" fill="#483be5"/>
<polygon points="24.16,65 27.32,75 35.21,100 45.36,125 57.75,150 72.39,175 89.27,200 108.41,225 125.34,245 133.8,255 124.8,255 116.34,245 99.41,225 80.27,200 63.39,175 48.75,150 36.36,125 26.21,100 18.32,75 15.16,65" fill="#4837df"/>
<polygon points="24.22,65 27.18,75 34.57,100 44.36,125 56.55,150 71.15,175 88.15,200 107.55,225 124.81,245 133.43,255 124.43,255 115.81,245 98.55,225 79.15,200 62.15,175 47.55,150 35.36,125 25.57,100 18.18,75 15.22,65" fill="#4833da"/>
<polygon points="24.47,65 27.12,75 33.77,100 43.06,125 55.01,150 69.61,175 86.87,200 106.78,225 124.62,245 133.54,255 124.54,255 115.62,245 97.78,225 77.87,200 60.61,175 46.01,150 34.06,125 24.77,100 18.12,75 15.47,65" fill="#4830d3"/>
<polygon points="24.62,65 27.01,75 32.97,100 41.81,125 53.52,150 68.11,175 85.58,200 105.92,225 124.26,245 133.43,255 124.43,255 115.26,245 96.92,225 76.58,200 59.11,175 44.52,150 32.81,125 23.97,100 18.01,75 15.62,65" fill="#472dcb"/>
<polygon points="24.58,65 26.75,75 32.18,100 40.64,125 52.14,150 66.68,175 84.25,200 104.85,225 123.51,245 132.85,255 123.85,255 114.51,245 95.85,225 75.25,200 57.68,175 43.14,150 31.64,125 23.18,100 17.75,75 15.58,65" fill="#462ac4"/>
<polygon points="24.53,65 26.49,75 31.39,100 39.48,125 50.77,150 65.25,175 82.92,200 103.78,225 122.77,245 132.26,255 123.26,255 113.77,245 94.78,225 73.92,200 56.25,175 41.77,150 30.48,125 22.39,100 17.49,75 15.53,65" fill="#4527bd"/>
<polygon points="24.48,65 26.23,75 30.6,100 38.32,125 49.39,150 63.81,175 81.59,200 102.71,225 122.02,245 131.68,255 122.68,255 113.02,245 93.71,225 72.59,200 54.81,175 40.39,150 29.32,125 21.6,100 17.23,75 15.48,65" fill="#4424b5"/>
<polygon points="24.44,65 25.97,75 29.81,100 37.16,125 48.02,150 62.38,175 80.26,200 101.64,225 121.27,245 131.09,255 122.09,255 112.27,245 92.64,225 71.26,200 53.38,175 39.02,150 28.16,125 20.81,100 16.97,75 15.44,65" fill="#4321ad"/>
</g>
<polygon points="111.3,137 113,143 115,165 115.3,185 114.9,229.8 115.6,229.8 119.8,185 119.4,138.5" fill="url(#g2)"/>
<polygon points="114.9,229.8 114.9,240.5 119.5,237.6" fill="#ffffff"/>
<polygon points="303.43,176.24 301.38,175.44 299.29,174.73 297.16,174.11 294.99,173.58 292.79,173.15 290.57,172.81 288.33,172.58 286.08,172.44 283.82,172.4 281.57,172.46 279.32,172.62 277.08,172.88 274.87,173.23 272.68,173.68 270.52,174.23 268.4,174.87 266.32,175.6 264.29,176.42 262.31,177.34 260.4,178.33 258.55,179.41 256.77,180.57 255.06,181.81 253.44,183.11 251.9,184.49 250.44,185.94 249.08,187.44 247.82,189.01 246.66,190.62 245.59,192.29 244.64,194 243.79,195.75 243.05,197.53 242.43,199.35 241.92,201.19 241.52,203.05 241.25,204.92 241.09,206.81 241.04,208.7 241.12,210.59 241.31,212.47 241.63,214.34 242.05,216.2 242.6,218.04 243.26,219.84 244.02,221.62 244.9,223.37 245.89,225.07 246.98,226.72 248.18,228.33 249.47,229.88 250.86,231.37 252.34,232.8 253.9,234.17 255.55,235.46 257.28,236.68 259.08,237.82 260.95,238.88 262.88,239.86 264.87,240.76 266.92,241.56 269.01,242.27 271.14,242.89 273.31,243.42 275.51,243.85 277.73,244.19 279.97,244.42 282.22,244.56 284.48,244.6 286.73,244.54 288.98,244.38 291.22,244.12 293.43,243.77 295.62,243.32 297.78,242.77 299.9,242.13 301.98,241.4 304.01,240.58 305.99,239.66 307.9,238.67 309.75,237.59 311.53,236.43 313.24,235.19 314.86,233.89 316.4,232.51 317.86,231.06 319.22,229.56 320.48,227.99 321.64,226.38 322.71,224.71 323.66,223 324.51,221.25 325.25,219.47 325.87,217.65 326.38,215.81 326.78,213.95 327.05,212.08 327.21,210.19 327.26,208.3 327.18,206.41 326.99,204.53 326.67,202.66 326.25,200.8 325.7,198.96 325.04,197.16 324.28,195.38 323.4,193.63 322.41,191.93 321.32,190.28 320.12,188.67 318.83,187.12 317.44,185.63 315.96,184.2 314.4,182.83 312.75,181.54 311.02,180.32 309.22,179.18 307.35,178.12 305.42,177.14" fill="#4321ad"/>
<g clip-path="url(#c3)">
<polygon points="235,-400 235,48.8 247,56 272,71 297,86 309,93.2 309,-400" fill="#f9fb00"/>
<polygon points="235,40.84 247,48.04 272,63.04 297,78.04 309,85.24 309,94.24 297,87.04 272,72.04 247,57.04 235,49.84" fill="#f8f700"/>
<polygon points="235,42.92 247,50.12 272,65.12 297,80.12 309,87.33 309,96.33 297,89.12 272,74.12 247,59.12 235,51.92" fill="#f8f300"/>
<polygon points="235,45.01 247,52.21 272,67.21 297,82.21 309,89.41 309,98.41 297,91.21 272,76.21 247,61.21 235,54.01" fill="#f8f000"/>
<polygon points="235,47.09 247,54.29 272,69.29 297,84.29 309,91.49 309,100.49 297,93.29 272,78.29 247,63.29 235,56.09" fill="#f9ec00"/>
<polygon points="235,49.17 247,56.38 272,71.38 297,86.38 309,93.58 309,102.58 297,95.38 272,80.38 247,65.38 235,58.17" fill="#fae800"/>
<polygon points="235,51.26 247,58.46 272,73.46 297,88.46 309,95.66 309,104.66 297,97.46 272,82.46 247,67.46 235,60.26" fill="#fce400"/>
<polygon points="235,53.34 247,60.54 272,75.54 297,90.54 309,97.74 309,106.74 297,99.54 272,84.54 247,69.54 235,62.34" fill="#ffe000"/>
<polygon points="235,55.43 247,62.63 272,77.63 297,92.63 309,99.83 309,108.83 297,101.63 272,86.63 247,71.62 235,64.43" fill="#ffdc00"/>
<polygon points="235,57 247,64.2 272,79.2 297,94.2 309,101.4 309,110.4 297,103.2 272,88.2 247,73.2 235,66" fill="#ffd800"/>
<polygon points="235,58.45 247,65.65 272,80.65 297,95.65 309,102.85 309,111.85 297,104.65 272,89.65 247,74.65 235,67.45" fill="#ffd300"/>
<polygon points="235,59.91 247,67.11 272,82.11 297,97.11 309,104.31 309,113.31 297,106.11 272,91.11 247,76.11 235,68.91" fill="#ffcf02"/>
<polygon points="235,61.37 247,68.57 272,83.57 297,98.57 309,105.77 309,114.77 297,107.57 272,92.57 247,77.57 235,70.37" fill="#ffcb0f"/>
<polygon points="235,62.84 247,70.04 272,85.04 297,100.04 309,107.24 309,116.24 297,109.04 272,94.04 247,79.04 235,71.84" fill="#ffc719"/>
<polygon points="235,64.92 247,72.12 272,87.12 297,102.12 309,109.33 309,118.33 297,111.12 272,96.12 247,81.12 235,73.92" fill="#ffc421"/>
<polygon points="235,67.01 247,74.21 272,89.21 297,104.21 309,111.41 309,120.41 297,113.21 272,98.21 247,83.21 235,76.01" fill="#ffc027"/>
<polygon points="235,69.09 247,76.29 272,91.29 297,106.29 309,113.49 309,122.49 297,115.29 272,100.29 247,85.29 235,78.09" fill="#ffbd29"/>
<polygon points="235,71.13 247,78.33 272,93.33 297,108.33 309,115.53 309,124.53 297,117.33 272,102.33 247,87.33 235,80.13" fill="#ffbc28"/>
<polygon points="235,72.95 247,80.15 272,95.15 297,110.15 309,117.35 309,126.35 297,119.15 272,104.15 247,89.15 235,81.95" fill="#ffbb20"/>
<polygon points="235,74.77 247,81.97 272,96.97 297,111.97 309,119.17 309,128.17 297,120.97 272,105.97 247,90.97 235,83.77" fill="#fcbc14"/>
<polygon points="235,76.6 247,83.8 272,98.8 297,113.8 309,121 309,130 297,122.8 272,107.8 247,92.8 235,85.6" fill="#f4bd03"/>
<polygon points="235,78.11 247,85.29 272,100.24 297,115.2 309,122.38 309,131.38 297,124.2 272,109.24 247,94.29 235,87.11" fill="#ebbe00"/>
<polygon points="235,79.02 247,86.13 272,100.96 297,115.79 309,122.9 309,131.9 297,124.79 272,109.96 247,95.13 235,88.02" fill="#e1bf00"/>
<polygon points="235,79.93 247,86.98 272,101.68 297,116.37 309,123.42 309,132.42 297,125.37 272,110.68 247,95.98 235,88.93" fill="#d7c100"/>
<polygon points="235,80.84 247,87.83 272,102.39 297,116.96 309,123.95 309,132.95 297,125.96 272,111.39 247,96.83 235,89.84" fill="#ccc300"/>
<polygon points="235,81.74 247,88.67 272,103.11 297,117.54 309,124.47 309,133.47 297,126.54 272,112.11 247,97.67 235,90.74" fill="#c1c400"/>
<polygon points="235,82.65 247,89.52 272,103.82 297,118.13 309,125 309,134 297,127.13 272,112.82 247,98.52 235,91.65" fill="#b4c60c"/>
<polygon points="235,83.56 247,90.37 272,104.54 297,118.71 309,125.52 309,134.52 297,127.71 272,113.54 247,99.37 235,92.56" fill="#a6c71a"/>
<polygon points="235,84.47 247,91.21 272,105.26 297,119.3 309,126.04 309,135.04 297,128.3 272,114.26 247,100.21 235,93.47" fill="#98c926"/>
<polygon points="235,85.47 247,92.14 272,106.04 297,119.94 309,126.61 309,135.61 297,128.94 272,115.04 247,101.14 235,94.47" fill="#88ca30"/>
<polygon points="235,86.5 247,93.11 272,106.86 297,120.61 309,127.21 309,136.21 297,129.61 272,115.86 247,102.11 235,95.5" fill="#76cb3b"/>
<polygon points="235,87.54 247,94.07 272,107.68 297,121.28 309,127.81 309,136.81 297,130.28 272,116.68 247,103.07 235,96.54" fill="#62cc45"/>
<polygon points="235,88.58 247,95.04 272,108.5 297,121.95 309,128.41 309,137.41 297,130.95 272,117.5 247,104.04 235,97.58" fill="#49cd4e"/>
<polygon points="235,89.62 247,96.01 272,109.31 297,122.62 309,129.01 309,138.01 297,131.62 272,118.31 247,105.01 235,98.62" fill="#22ce57"/>
<polygon points="235,90.66 247,96.97 272,110.13 297,123.29 309,129.61 309,138.61 297,132.29 272,119.13 247,105.97 235,99.66" fill="#00ce60"/>
<polygon points="235,91.7 247,97.94 272,110.95 297,123.96 309,130.2 309,139.2 297,132.96 272,119.95 247,106.94 235,100.7" fill="#00ce69"/>
<polygon points="235,93.71 247,99.76 272,112.37 297,125.18 309,131.32 309,140.32 297,134.18 272,121.37 247,108.76 235,102.71" fill="#00ce71"/>
<polygon points="235,95.79 247,101.64 272,113.83 297,126.42 309,132.47 309,141.47 297,135.43 272,122.83 247,110.64 235,104.79" fill="#00cd79"/>
<polygon points="235,97.86 247,103.51 272,115.29 297,127.67 309,133.62 309,142.62 297,136.68 272,124.29 247,112.51 235,106.86" fill="#00cd80"/>
<polygon points="235,99.94 247,105.39 272,116.75 297,128.93 309,134.77 309,143.77 297,137.93 272,125.75 247,114.39 235,108.94" fill="#00cc88"/>
<polygon points="235,102.05 247,107.32 272,118.29 297,130.28 309,136.03 309,145.03 297,139.28 272,127.29 247,116.32 235,111.05" fill="#00cb8e"/>
<polygon points="235,104.45 247,109.61 272,120.38 297,132.26 309,137.96 309,146.96 297,141.26 272,129.38 247,118.61 235,113.45" fill="#00c995"/>
<polygon points="235,106.84 247,111.9 272,122.46 297,134.24 309,139.89 309,148.89 297,143.24 272,131.46 247,120.9 235,115.84" fill="#00c89b"/>
<polygon points="235,109.23 247,114.2 272,124.54 297,136.21 309,141.82 309,150.82 297,145.21 272,133.54 247,123.2 235,118.23" fill="#00c7a1"/>
<polygon points="235,111.62 247,116.49 272,126.62 297,138.19 309,143.75 309,152.75 297,147.19 272,135.62 247,125.49 235,120.62" fill="#00c5a6"/>
<polygon points="235,113.71 247,118.51 272,128.51 297,139.98 309,145.49 309,154.49 297,148.98 272,137.51 247,127.51 235,122.71" fill="#00c4ab"/>
<polygon points="235,115.19 247,119.99 272,129.99 297,141.39 309,146.87 309,155.87 297,150.39 272,138.99 247,128.99 235,124.19" fill="#00c2b1"/>
<polygon points="235,116.68 247,121.48 272,131.48 297,142.81 309,148.24 309,157.24 297,151.81 272,140.48 247,130.48 235,125.68" fill="#00c1b5"/>
<polygon points="235,118.17 247,122.97 272,132.97 297,144.22 309,149.62 309,158.62 297,153.22 272,141.97 247,131.97 235,127.17" fill="#00c0ba"/>
<polygon points="235,119.66 247,124.46 272,134.46 297,145.64 309,151 309,160 297,154.64 272,143.46 247,133.46 235,128.66" fill="#00bebf"/>
<polygon points="235,121.15 247,125.95 272,135.95 297,147.05 309,152.38 309,161.38 297,156.05 272,144.95 247,134.95 235,130.15" fill="#00bcc4"/>
<polygon points="235,122.63 247,127.43 272,137.43 297,148.46 309,153.76 309,162.76 297,157.46 272,146.43 247,136.43 235,131.63" fill="#00bbc8"/>
<polygon points="235,124.4 247,129.23 272,139.29 297,150.29 309,155.57 309,164.57 297,159.29 272,148.29 247,138.23 235,133.4" fill="#00b9cd"/>
<polygon points="235,126.33 247,131.21 272,141.38 297,152.38 309,157.66 309,166.66 297,161.38 272,150.38 247,140.21 235,135.33" fill="#00b7d1"/>
<polygon points="235,128.25 247,133.19 272,143.46 297,154.46 309,159.74 309,168.74 297,163.46 272,152.46 247,142.19 235,137.25" fill="#00b5d5"/>
<polygon points="235,130.18 247,135.16 272,145.54 297,156.54 309,161.82 309,170.82 297,165.54 272,154.54 247,144.16 235,139.18" fill="#00b2d9"/>
<polygon points="235,132.11 247,137.14 272,147.62 297,158.62 309,163.91 309,172.91 297,167.62 272,156.62 247,146.14 235,141.11" fill="#00b0dd"/>
<polygon points="235,133.92 247,138.99 272,149.57 297,160.57 309,165.85 309,174.85 297,169.57 272,158.57 247,147.99 235,142.92" fill="#00ade0"/>
<polygon points="235,135.7 247,140.82 272,151.48 297,162.48 309,167.76 309,176.76 297,171.48 272,160.48 247,149.82 235,144.7" fill="#00aae2"/>
<polygon points="235,137.48 247,142.64 272,153.39 297,164.39 309,169.67 309,178.67 297,173.39 272,162.39 247,151.64 235,146.48" fill="#00a7e5"/>
<polygon points="235,139.26 247,144.46 272,155.3 297,166.3 309,171.58 309,180.58 297,175.3 272,164.3 247,153.46 235,148.26" fill="#00a4e6"/>
<polygon points="235,141.05 247,146.29 272,157.2 297,168.2 309,173.48 309,182.48 297,177.2 272,166.2 247,155.29 235,150.05" fill="#00a1e8"/>
<polygon points="235,142.81 247,148.09 272,159.09 297,170.09 309,175.37 309,184.37 297,179.09 272,168.09 247,157.09 235,151.81" fill="#009eea"/>
<polygon points="235,144.23 247,149.55 272,160.62 297,171.62 309,176.9 309,185.9 297,180.62 272,169.62 247,158.55 235,153.23" fill="#009bec"/>
<polygon points="235,145.66 247,151 272,162.15 297,173.15 309,178.43 309,187.43 297,182.15 272,171.15 247,160 235,154.66" fill="#0098ee"/>
<polygon points="235,147.08 247,152.46 272,163.68 297,174.68 309,179.96 309,188.96 297,183.68 272,172.68 247,161.46 235,156.08" fill="#0095f1"/>
<polygon points="235,148.51 247,153.92 272,165.2 297,176.2 309,181.48 309,190.48 297,185.2 272,174.2 247,162.92 235,157.51" fill="#0091f3"/>
<polygon points="235,149.93 247,155.38 272,166.73 297,177.73 309,183.01 309,192.01 297,186.73 272,175.73 247,164.38 235,158.93" fill="#008ef6"/>
<polygon points="235,151.36 247,156.84 272,168.26 297,179.26 309,184.54 309,193.54 297,188.26 272,177.26 247,165.84 235,160.36" fill="#008af9"/>
<polygon points="235,152.78 247,158.3 272,169.79 297,180.79 309,186.07 309,195.07 297,189.79 272,178.79 247,167.3 235,161.78" fill="#0086fb"/>
<polygon points="235,154.22 247,159.74 272,171.24 297,182.38 309,187.72 309,196.72 297,191.38 272,180.24 247,168.74 235,163.22" fill="#0083fd"/>
<polygon points="235,155.66 247,161.18 272,172.68 297,183.98 309,189.4 309,198.4 297,192.98 272,181.68 247,170.18 235,164.66" fill="#007fff"/>
<polygon points="235,157.1 247,162.62 272,174.12 297,185.58 309,191.08 309,200.08 297,194.58 272,183.12 247,171.62 235,166.1" fill="#007bff"/>
<polygon points="235,158.55 247,164.07 272,175.57 297,187.19 309,192.76 309,201.76 297,196.19 272,184.57 247,173.07 235,167.55" fill="#0077ff"/>
<polygon points="235,159.99 247,165.51 272,177.01 297,188.79 309,194.44 309,203.44 297,197.79 272,186.01 247,174.51 235,168.99" fill="#0072ff"/>
<polygon points="235,161.43 247,166.95 272,178.45 297,190.39 309,196.12 309,205.12 297,199.39 272,187.45 247,175.95 235,170.43" fill="#086eff"/>
<polygon points="235,163.06 247,168.43 272,179.61 297,191.81 309,197.66 309,206.66 297,200.81 272,188.61 247,177.43 235,172.06" fill="#1f6aff"/>
<polygon points="235,164.81 247,169.93 272,180.58 297,193.11 309,199.12 309,208.12 297,202.11 272,189.58 247,178.93 235,173.81" fill="#2966ff"/>
<polygon points="235,166.56 247,171.42 272,181.56 297,194.41 309,200.58 309,209.58 297,203.41 272,190.56 247,180.42 235,175.56" fill="#3162ff"/>
<polygon points="235,168.31 247,172.92 272,182.54 297,195.71 309,202.04 309,211.04 297,204.71 272,191.54 247,181.92 235,177.31" fill="#365eff"/>
<polygon points="235,170.05 247,174.42 272,183.51 297,197.02 309,203.5 309,212.5 297,206.02 272,192.51 247,183.42 235,179.05" fill="#3a5afe"/>
<polygon points="235,171.8 247,175.92 272,184.49 297,198.32 309,204.96 309,213.96 297,207.32 272,193.49 247,184.92 235,180.8" fill="#3e56fc"/>
<polygon points="235,173.55 247,177.41 272,185.46 297,199.62 309,206.41 309,215.41 297,208.62 272,194.46 247,186.41 235,182.55" fill="#4053f9"/>
<polygon points="235,175.3 247,178.91 272,186.44 297,200.92 309,207.87 309,216.87 297,209.92 272,195.44 247,187.91 235,184.3" fill="#424ff7"/>
<polygon points="235,176.35 247,179.98 272,187.55 297,202.4 309,209.53 309,218.53 297,211.4 272,196.55 247,188.98 235,185.35" fill="#444bf4"/>
<polygon points="235,177.35 247,181.02 272,188.67 297,203.89 309,211.19 309,220.19 297,212.89 272,197.67 247,190.02 235,186.35" fill="#4647f1"/>
<polygon points="235,178.36 247,182.06 272,189.78 297,205.38 309,212.86 309,221.86 297,214.38 272,198.78 247,191.06 235,187.36" fill="#4743ed"/>
<polygon points="235,179.36 247,183.1 272,190.9 297,206.86 309,214.53 309,223.53 297,215.86 272,199.9 247,192.1 235,188.36" fill="#483fe9"/>
<polygon points="235,180.37 247,184.15 272,192.01 297,208.35 309,216.19 309,225.19 297,217.35 272,201.01 247,193.15 235,189.37" fill="#483be5"/>
<polygon points="235,181.38 247,185.19 272,193.13 297,209.84 309,217.86 309,226.86 297,218.84 272,202.13 247,194.19 235,190.38" fill="#4837df"/>
<polygon points="235,182.31 247,186.21 272,194.32 297,211.46 309,219.68 309,228.68 297,220.46 272,203.32 247,195.21 235,191.31" fill="#4833da"/>
<polygon points="235,183 247,187.14 272,195.78 297,213.54 309,222.07 309,231.07 297,222.54 272,204.78 247,196.14 235,192" fill="#4830d3"/>
<polygon points="235,183.69 247,188.08 272,197.24 297,215.62 309,224.45 309,233.45 297,224.62 272,206.24 247,197.08 235,192.69" fill="#472dcb"/>
<polygon points="235,184.37 247,189.02 272,198.7 297,217.71 309,226.83 309,235.83 297,226.71 272,207.7 247,198.02 235,193.37" fill="#462ac4"/>
<polygon points="235,185.06 247,189.96 272,200.15 297,219.79 309,229.22 309,238.22 297,228.79 272,209.15 247,198.96 235,194.06" fill="#4527bd"/>
<polygon points="235,185.91 247,191.16 272,202.09 297,222.53 309,232.34 309,241.34 297,231.53 272,211.09 247,200.16 235,194.91" fill="#4424b5"/>
<polygon points="235,186.97 247,192.72 272,204.7 297,226.18 309,236.49 309,245.49 297,235.18 272,213.7 247,201.72 235,195.97" fill="#4321ad"/>
</g>
<polygon points="294.5,160 295.5,158.7 298.3,174 300.2,190 303.3,212.5 304.8,237 302.4,222 299.6,203 297.2,186" fill="url(#g4)"/>
<polygon points="487.38,179.61 485.35,178.83 483.27,178.14 481.15,177.54 478.99,177.03 476.8,176.61 474.59,176.29 472.36,176.05 470.11,175.92 467.86,175.88 465.61,175.93 463.37,176.08 461.14,176.32 458.92,176.66 456.73,177.09 454.57,177.62 452.45,178.23 450.37,178.93 448.34,179.72 446.36,180.59 444.44,181.55 442.59,182.59 440.8,183.7 439.09,184.88 437.46,186.14 435.91,187.47 434.44,188.85 433.07,190.3 431.8,191.8 430.62,193.36 429.55,194.96 428.58,196.6 427.71,198.29 426.96,200 426.32,201.75 425.8,203.52 425.39,205.31 425.09,207.12 424.91,208.93 424.85,210.75 424.91,212.57 425.09,214.38 425.38,216.18 425.79,217.97 426.32,219.74 426.96,221.48 427.71,223.19 428.57,224.87 429.54,226.51 430.61,228.11 431.78,229.65 433.06,231.15 434.43,232.59 435.89,233.97 437.44,235.28 439.07,236.53 440.78,237.71 442.57,238.81 444.42,239.83 446.34,240.78 448.32,241.64 450.35,242.42 452.43,243.11 454.55,243.71 456.71,244.22 458.9,244.64 461.11,244.96 463.34,245.2 465.59,245.33 467.84,245.37 470.09,245.32 472.33,245.17 474.56,244.93 476.78,244.59 478.97,244.16 481.13,243.63 483.25,243.02 485.33,242.32 487.36,241.53 489.34,240.66 491.26,239.7 493.11,238.66 494.9,237.55 496.61,236.37 498.24,235.11 499.79,233.78 501.26,232.4 502.63,230.95 503.9,229.45 505.08,227.89 506.15,226.29 507.12,224.65 507.99,222.96 508.74,221.25 509.38,219.5 509.9,217.73 510.31,215.94 510.61,214.13 510.79,212.32 510.85,210.5 510.79,208.68 510.61,206.87 510.32,205.07 509.91,203.28 509.38,201.51 508.74,199.77 507.99,198.06 507.13,196.38 506.16,194.74 505.09,193.14 503.92,191.6 502.64,190.1 501.27,188.66 499.81,187.28 498.26,185.97 496.63,184.72 494.92,183.54 493.13,182.44 491.28,181.42 489.36,180.47" fill="#4321ad" clip-path="url(#cdisk)"/>
<g clip-path="url(#c5)">
<polygon points="422,-400 422,86.44 428,95.25 436,107 442,115.81 442,-400" fill="#f9fb00"/>
<polygon points="422,78.06 428,86.88 436,98.62 442,107.44 442,116.44 436,107.62 428,95.88 422,87.06" fill="#f8f600"/>
<polygon points="422,79.31 428,88.12 436,99.88 442,108.69 442,117.69 436,108.88 428,97.12 422,88.31" fill="#f8f200"/>
<polygon points="422,80.56 428,89.38 436,101.12 442,109.94 442,118.94 436,110.12 428,98.38 422,89.56" fill="#f9ed00"/>
<polygon points="422,81.81 428,90.62 436,102.37 442,111.19 442,120.19 436,111.37 428,99.62 422,90.81" fill="#fae900"/>
<polygon points="422,83.06 428,91.88 436,103.62 442,112.44 442,121.44 436,112.62 428,100.88 422,92.06" fill="#fce400"/>
<polygon points="422,84.31 428,93.12 436,104.88 442,113.69 442,122.69 436,113.88 428,102.12 422,93.31" fill="#ffdf00"/>
<polygon points="422,85.56 428,94.38 436,106.12 442,114.94 442,123.94 436,115.12 428,103.38 422,94.56" fill="#ffda00"/>
<polygon points="422,86.81 428,95.62 436,107.38 442,116.19 442,125.19 436,116.38 428,104.62 422,95.81" fill="#ffd500"/>
<polygon points="422,88.06 428,96.87 436,108.62 442,117.44 442,126.44 436,117.62 428,105.87 422,97.06" fill="#ffd000"/>
<polygon points="422,89.31 428,98.12 436,109.88 442,118.69 442,127.69 436,118.88 428,107.12 422,98.31" fill="#ffcb0f"/>
<polygon points="422,90.56 428,99.38 436,111.12 442,119.94 442,128.94 436,120.12 428,108.38 422,99.56" fill="#ffc71b"/>
<polygon points="422,91.81 428,100.62 436,112.38 442,121.19 442,130.19 436,121.38 428,109.62 422,100.81" fill="#ffc223"/>
<polygon points="422,93.34 428,102.15 436,113.9 442,122.72 442,131.72 436,122.9 428,111.15 422,102.34" fill="#ffbe29"/>
<polygon points="422,95.15 428,103.96 436,115.71 442,124.52 442,133.52 436,124.71 428,112.96 422,104.15" fill="#ffbc2a"/>
<polygon points="422,96.95 428,105.76 436,117.51 442,126.33 442,135.33 436,126.51 428,114.76 422,105.95" fill="#ffbb20"/>
<polygon points="422,98.76 428,107.57 436,119.32 442,128.13 442,137.13 436,128.32 428,116.57 422,107.76" fill="#fabc11"/>
<polygon points="422,100.56 428,109.38 436,121.12 442,129.94 442,138.94 436,130.12 428,118.38 422,109.56" fill="#f0bd00"/>
<polygon points="422,102.37 428,111.18 436,122.93 442,131.74 442,140.74 436,131.93 428,120.18 422,111.37" fill="#e5bf00"/>
<polygon points="422,104.17 428,112.99 436,124.74 442,133.55 442,142.55 436,133.74 428,121.99 422,113.17" fill="#d9c100"/>
<polygon points="422,105.81 428,114.62 436,126.38 442,135.19 442,144.19 436,135.38 428,123.62 422,114.81" fill="#ccc300"/>
<polygon points="422,107.06 428,115.88 436,127.62 442,136.44 442,145.44 436,136.62 428,124.88 422,116.06" fill="#bec400"/>
<polygon points="422,108.31 428,117.12 436,128.88 442,137.69 442,146.69 436,137.88 428,126.12 422,117.31" fill="#afc613"/>
<polygon points="422,109.56 428,118.38 436,130.12 442,138.94 442,147.94 436,139.12 428,127.38 422,118.56" fill="#9ec821"/>
<polygon points="422,110.81 428,119.62 436,131.38 442,140.19 442,149.19 436,140.38 428,128.62 422,119.81" fill="#8bca2e"/>
<polygon points="422,112.06 428,120.88 436,132.62 442,141.44 442,150.44 436,141.62 428,129.88 422,121.06" fill="#76cb3b"/>
<polygon points="422,113.31 428,122.12 436,133.88 442,142.69 442,151.69 436,142.88 428,131.12 422,122.31" fill="#5ecc46"/>
<polygon points="422,114.56 428,123.38 436,135.12 442,143.94 442,152.94 436,144.12 428,132.38 422,123.56" fill="#3dcd52"/>
<polygon points="422,115.81 428,124.62 436,136.38 442,145.19 442,154.19 436,145.38 428,133.62 422,124.81" fill="#00ce5c"/>
<polygon points="422,117.06 428,125.88 436,137.62 442,146.44 442,155.44 436,146.62 428,134.88 422,126.06" fill="#00ce67"/>
<polygon points="422,118.59 428,127.4 436,139.15 442,147.96 442,156.96 436,148.15 428,136.4 422,127.59" fill="#00ce71"/>
<polygon points="422,120.23 428,129.04 436,140.79 442,149.6 442,158.6 436,149.79 428,138.04 422,129.23" fill="#00cd7a"/>
<polygon points="422,121.87 428,130.68 436,142.43 442,151.24 442,160.24 436,151.43 428,139.68 422,130.87" fill="#00cc83"/>
<polygon points="422,123.51 428,132.32 436,144.07 442,152.88 442,161.88 436,153.07 428,141.32 422,132.51" fill="#00cb8c"/>
<polygon points="422,125.15 428,133.96 436,145.71 442,154.52 442,163.52 436,154.71 428,142.96 422,134.15" fill="#00ca94"/>
<polygon points="422,126.79 428,135.6 436,147.35 442,156.16 442,165.16 436,156.35 428,144.6 422,135.79" fill="#00c89b"/>
<polygon points="422,128.22 428,137.03 436,148.78 442,157.59 442,166.59 436,157.78 428,146.03 422,137.22" fill="#00c6a2"/>
<polygon points="422,129.16 428,137.97 436,149.72 442,158.53 442,167.53 436,158.72 428,146.97 422,138.16" fill="#00c5a8"/>
<polygon points="422,130.09 428,138.91 436,150.66 442,159.47 442,168.47 436,159.66 428,147.91 422,139.09" fill="#00c3af"/>
<polygon points="422,131.03 428,139.84 436,151.59 442,160.41 442,169.41 436,160.59 428,148.84 422,140.03" fill="#00c1b4"/>
<polygon points="422,131.97 428,140.78 436,152.53 442,161.34 442,170.34 436,161.53 428,149.78 422,140.97" fill="#00c0ba"/>
<polygon points="422,132.91 428,141.72 436,153.47 442,162.28 442,171.28 436,162.47 428,150.72 422,141.91" fill="#00bec0"/>
<polygon points="422,133.84 428,142.66 436,154.41 442,163.22 442,172.22 436,163.41 428,151.66 422,142.84" fill="#00bcc6"/>
<polygon points="422,134.78 428,143.59 436,155.34 442,164.16 442,173.16 436,164.34 428,152.59 422,143.78" fill="#00bacb"/>
<polygon points="422,135.72 428,144.53 436,156.28 442,165.09 442,174.09 436,165.28 428,153.53 422,144.72" fill="#00b7d0"/>
<polygon points="422,136.66 428,145.47 436,157.22 442,166.03 442,175.03 436,166.22 428,154.47 422,145.66" fill="#00b5d5"/>
<polygon points="422,137.59 428,146.41 436,158.16 442,166.97 442,175.97 436,167.16 428,155.41 422,146.59" fill="#00b2da"/>
<polygon points="422,138.6 428,147.42 436,159.17 442,167.98 442,176.98 436,168.17 428,156.42 422,147.6" fill="#00afde"/>
<polygon points="422,140.27 428,149.08 436,160.83 442,169.65 442,178.65 436,169.83 428,158.08 422,149.27" fill="#00ace1"/>
<polygon points="422,141.94 428,150.75 436,162.5 442,171.31 442,180.31 436,171.5 428,159.75 422,150.94" fill="#00a8e4"/>
<polygon points="422,143.6 428,152.42 436,164.17 442,172.98 442,181.98 436,173.17 428,161.42 422,152.6" fill="#00a4e6"/>
<polygon points="422,145.27 428,154.08 436,165.83 442,174.65 442,183.65 436,174.83 428,163.08 422,154.27" fill="#00a1e8"/>
<polygon points="422,146.94 428,155.75 436,167.5 442,176.31 442,185.31 436,176.5 428,164.75 422,155.94" fill="#009deb"/>
<polygon points="422,148.6 428,157.42 436,169.17 442,177.98 442,186.98 436,178.17 428,166.42 422,157.6" fill="#0099ed"/>
<polygon points="422,150.27 428,159.08 436,170.83 442,179.65 442,188.65 436,179.83 428,168.08 422,159.27" fill="#0095f0"/>
<polygon points="422,152.32 428,161.13 436,172.88 442,181.7 442,190.7 436,181.88 428,170.13 422,161.32" fill="#0091f3"/>
<polygon points="422,154.42 428,163.23 436,174.98 442,183.79 442,192.79 436,183.98 428,172.23 422,163.42" fill="#008df7"/>
<polygon points="422,156.51 428,165.32 436,177.07 442,185.88 442,194.88 436,186.07 428,174.32 422,165.51" fill="#0089fa"/>
<polygon points="422,158.6 428,167.42 436,179.17 442,187.98 442,196.98 436,188.17 428,176.42 422,167.6" fill="#0084fd"/>
<polygon points="422,160.7 428,169.51 436,181.26 442,190.07 442,199.07 436,190.26 428,178.51 422,169.7" fill="#0080ff"/>
<polygon points="422,162.79 428,171.6 436,183.35 442,192.17 442,201.17 436,192.35 428,180.6 422,171.79" fill="#007bff"/>
<polygon points="422,164.53 428,173.34 436,185.09 442,193.9 442,202.9 436,194.09 428,182.34 422,173.53" fill="#0076ff"/>
<polygon points="422,165.9 428,174.71 436,186.46 442,195.28 442,204.28 436,195.46 428,183.71 422,174.9" fill="#0071ff"/>
<polygon points="422,167.28 428,176.09 436,187.84 442,196.65 442,205.65 436,196.84 428,185.09 422,176.28" fill="#186cff"/>
<polygon points="422,168.65 428,177.46 436,189.21 442,198.03 442,207.03 436,198.21 428,186.46 422,177.65" fill="#2867ff"/>
<polygon points="422,170.03 428,178.84 436,190.59 442,199.4 442,208.4 436,199.59 428,187.84 422,179.03" fill="#3162ff"/>
<polygon points="422,171.4 428,180.21 436,191.96 442,200.78 442,209.78 436,200.96 428,189.21 422,180.4" fill="#375dff"/>
<polygon points="422,172.78 428,181.59 436,193.34 442,202.15 442,211.15 436,202.34 428,190.59 422,181.78" fill="#3c59fd"/>
<polygon points="422,174.15 428,182.96 436,194.71 442,203.53 442,212.53 436,203.71 428,191.96 422,183.15" fill="#3f54fa"/>
<polygon points="422,175.7 428,184.52 436,196.27 442,205.08 442,214.08 436,205.27 428,193.52 422,184.7" fill="#424ff7"/>
<polygon points="422,177.44 428,186.25 436,198 442,206.81 442,215.81 436,207 428,195.25 422,186.44" fill="#444bf4"/>
<polygon points="422,179.17 428,187.99 436,199.74 442,208.55 442,217.55 436,208.74 428,196.99 422,188.17" fill="#4646f0"/>
<polygon points="422,180.91 428,189.72 436,201.47 442,210.28 442,219.28 436,210.47 428,198.72 422,189.91" fill="#4741ec"/>
<polygon points="422,182.64 428,191.45 436,203.2 442,212.02 442,221.02 436,212.2 428,200.45 422,191.64" fill="#483ce7"/>
<polygon points="422,184.38 428,193.19 436,204.94 442,213.75 442,222.75 436,213.94 428,202.19 422,193.38" fill="#4838e1"/>
<polygon points="422,186.09 428,194.9 436,206.65 442,215.46 442,224.46 436,215.65 428,203.9 422,195.09" fill="#4833da"/>
<polygon points="422,187.61 428,196.42 436,208.17 442,216.98 442,225.98 436,217.17 428,205.42 422,196.61" fill="#4830d1"/>
<polygon points="422,189.12 428,197.94 436,209.69 442,218.5 442,227.5 436,218.69 428,206.94 422,198.12" fill="#472cc9"/>
<polygon points="422,190.64 428,199.46 436,211.21 442,220.02 442,229.02 436,220.21 428,208.46 422,199.64" fill="#4628c0"/>
<polygon points="422,192.16 428,200.97 436,212.72 442,221.54 442,230.54 436,221.72 428,209.97 422,201.16" fill="#4425b7"/>
<polygon points="422,193.68 428,202.49 436,214.24 442,223.05 442,232.05 436,223.24 428,211.49 422,202.68" fill="#4321ad"/>
<polygon points="422,400 422,194.44 428,203.25 436,215 442,223.81 442,400" fill="#4321ad"/>
</g>
<g clip-path="url(#c6)">
<polygon points="300,70 438.33,70 439,80 441,110 423,140 408,170 389,200 375,225 364.6,245 359.4,255 300,255" fill="#f9fb00"/>
<polygon points="429.94,70 430.52,80 432.26,110 414.45,140 399.45,170 380.45,200 366.45,225 356.05,245 350.85,255 359.85,255 365.05,245 375.45,225 389.45,200 408.45,170 423.45,140 441.26,110 439.52,80 438.94,70" fill="#f8f700"/>
<polygon points="431.16,70 431.56,80 432.78,110 415.34,140 400.34,170 381.34,200 367.34,225 356.94,245 351.74,255 360.74,255 365.94,245 376.34,225 390.34,200 409.34,170 424.34,140 441.78,110 440.56,80 440.16,70" fill="#f8f300"/>
<polygon points="432.37,70 432.6,80 433.3,110 416.23,140 401.23,170 382.23,200 368.23,225 357.83,245 352.63,255 361.63,255 366.83,245 377.23,225 391.23,200 410.23,170 425.23,140 442.3,110 441.6,80 441.37,70" fill="#f8f000"/>
<polygon points="433.59,70 433.65,80 433.82,110 417.12,140 402.12,170 383.12,200 369.12,225 358.73,245 353.53,255 362.53,255 367.73,245 378.12,225 392.12,200 411.12,170 426.12,140 442.82,110 442.65,80 442.59,70" fill="#f9ec00"/>
<polygon points="434.8,70 434.69,80 434.34,110 418.02,140 403.02,170 384.02,200 370.02,225 359.62,245 354.42,255 363.42,255 368.62,245 379.02,225 393.02,200 412.02,170 427.02,140 443.34,110 443.69,80 443.8,70" fill="#fae800"/>
<polygon points="436.05,70 435.73,80 434.76,110 418.91,140 403.91,170 384.91,200 370.91,225 360.51,245 355.31,255 364.31,255 369.51,245 379.91,225 393.91,200 412.91,170 427.91,140 443.76,110 444.73,80 445.05,70" fill="#fce400"/>
<polygon points="437.32,70 436.77,80 435.13,110 419.8,140 404.8,170 385.8,200 371.8,225 361.4,245 356.2,255 365.2,255 370.4,245 380.8,225 394.8,200 413.8,170 428.8,140 444.13,110 445.77,80 446.32,70" fill="#ffe000"/>
<polygon points="438.58,70 437.81,80 435.5,110 420.7,140 405.7,170 386.7,200 372.7,225 362.3,245 357.1,255 366.1,255 371.3,245 381.7,225 395.7,200 414.7,170 429.7,140 444.5,110 446.81,80 447.58,70" fill="#ffdc00"/>
<polygon points="439.85,70 438.85,80 435.88,110 421.59,140 406.59,170 387.59,200 373.59,225 363.19,245 357.99,255 366.99,255 372.19,245 382.59,225 396.59,200 415.59,170 430.59,140 444.88,110 447.85,80 448.85,70" fill="#ffd800"/>
<polygon points="441.11,70 439.9,80 436.25,110 422.48,140 407.48,170 388.48,200 374.48,225 364.08,245 358.88,255 367.88,255 373.08,245 383.48,225 397.48,200 416.48,170 431.48,140 445.25,110 448.9,80 450.11,70" fill="#ffd300"/>
<polygon points="443,70 441.41,80 436.62,110 423.38,140 408.38,170 389.38,200 375.38,225 364.98,245 359.78,255 368.78,255 373.98,245 384.38,225 398.38,200 417.38,170 432.38,140 445.62,110 450.41,80 452,70" fill="#ffcf02"/>
<polygon points="444.96,70 442.97,80 436.99,110 424.27,140 409.27,170 390.27,200 376.27,225 365.87,245 360.67,255 369.67,255 374.87,245 385.27,225 399.27,200 418.27,170 433.27,140 445.99,110 451.97,80 453.96,70" fill="#ffcb0f"/>
<polygon points="446.75,70 444.53,80 437.87,110 425.16,140 410.16,170 391.16,200 377.16,225 366.76,245 361.56,255 370.56,255 375.76,245 386.16,225 400.16,200 419.16,170 434.16,140 446.87,110 453.53,80 455.75,70" fill="#ffc719"/>
<polygon points="448.67,70 446.19,80 438.75,110 426.05,140 411.05,170 392.05,200 378.05,225 367.65,245 362.45,255 371.45,255 376.65,245 387.05,225 401.05,200 420.05,170 435.05,140 447.75,110 455.19,80 457.67,70" fill="#ffc421"/>
<polygon points="452.54,70 449.31,80 439.64,110 426.95,140 411.95,170 392.95,200 378.95,225 368.55,245 363.35,255 372.35,255 377.55,245 387.95,225 401.95,200 420.95,170 435.95,140 448.64,110 458.31,80 461.54,70" fill="#ffc027"/>
<polygon points="456.44,70 452.52,80 440.77,110 427.84,140 412.84,170 393.84,200 379.84,225 369.44,245 364.24,255 373.24,255 378.44,245 388.84,225 402.84,200 421.84,170 436.84,140 449.77,110 461.52,80 465.44,70" fill="#ffbd29"/>
<polygon points="460.55,70 456.27,80 443.44,110 428.73,140 413.73,170 394.73,200 380.73,225 370.33,245 365.13,255 374.13,255 379.33,245 389.73,225 403.73,200 422.73,170 437.73,140 452.44,110 465.27,80 469.55,70" fill="#ffbc28"/>
<polygon points="464.66,70 460.02,80 446.11,110 429.62,140 414.62,170 395.62,200 381.62,225 371.23,245 366.03,255 375.03,255 380.23,245 390.62,225 404.62,200 423.62,170 438.62,140 455.11,110 469.02,80 473.66,70" fill="#ffbb20"/>
<polygon points="466.83,70 462.05,80 447.71,110 430.52,140 415.52,170 396.52,200 382.52,225 372.12,245 366.92,255 375.92,255 381.12,245 391.52,225 405.52,200 424.52,170 439.52,140 456.71,110 471.05,80 475.83,70" fill="#fcbc14"/>
<polygon points="468.31,70 463.47,80 448.94,110 431.41,140 416.41,170 397.41,200 383.41,225 373.01,245 367.81,255 376.81,255 382.01,245 392.41,225 406.41,200 425.41,170 440.41,140 457.94,110 472.47,80 477.31,70" fill="#f4bd03"/>
<polygon points="469.8,70 464.89,80 450.17,110 432.3,140 417.3,170 398.3,200 384.3,225 373.9,245 368.7,255 377.7,255 382.9,245 393.3,225 407.3,200 426.3,170 441.3,140 459.17,110 473.89,80 478.8,70" fill="#ebbe00"/>
<polygon points="471.28,70 466.31,80 451.4,110 433.2,140 418.2,170 399.2,200 385.2,225 374.8,245 369.6,255 378.6,255 383.8,245 394.2,225 408.2,200 427.2,170 442.2,140 460.4,110 475.31,80 480.28,70" fill="#e1bf00"/>
<polygon points="472.77,70 467.73,80 452.64,110 434.09,140 419.09,170 400.09,200 386.09,225 375.69,245 370.49,255 379.49,255 384.69,245 395.09,225 409.09,200 428.09,170 443.09,140 461.64,110 476.73,80 481.77,70" fill="#d7c100"/>
<polygon points="474.02,70 468.92,80 453.64,110 434.98,140 419.98,170 400.98,200 386.98,225 376.58,245 371.38,255 380.38,255 385.58,245 395.98,225 409.98,200 428.98,170 443.98,140 462.64,110 477.92,80 483.02,70" fill="#ccc300"/>
<polygon points="474.99,70 469.84,80 454.39,110 435.88,140 420.88,170 401.88,200 387.88,225 377.48,245 372.28,255 381.28,255 386.48,245 396.88,225 410.88,200 429.88,170 444.88,140 463.39,110 478.84,80 483.99,70" fill="#c1c400"/>
<polygon points="475.97,70 470.76,80 455.14,110 436.77,140 421.77,170 402.77,200 388.77,225 378.37,245 373.17,255 382.17,255 387.37,245 397.77,225 411.77,200 430.77,170 445.77,140 464.14,110 479.76,80 484.97,70" fill="#b4c60c"/>
<polygon points="476.95,70 471.68,80 455.88,110 437.66,140 422.66,170 403.66,200 389.66,225 379.26,245 374.06,255 383.06,255 388.26,245 398.66,225 412.66,200 431.66,170 446.66,140 464.88,110 480.68,80 485.95,70" fill="#a6c71a"/>
<polygon points="477.93,70 472.6,80 456.63,110 438.53,140 423.55,170 404.55,200 390.55,225 380.15,245 374.95,255 383.95,255 389.15,245 399.55,225 413.55,200 432.55,170 447.53,140 465.63,110 481.6,80 486.93,70" fill="#98c926"/>
<polygon points="478.91,70 473.52,80 457.38,110 439.38,140 424.45,170 405.45,200 391.45,225 381.05,245 375.85,255 384.85,255 390.05,245 400.45,225 414.45,200 433.45,170 448.38,140 466.38,110 482.52,80 487.91,70" fill="#88ca30"/>
<polygon points="479.68,70 474.28,80 458.08,110 440.23,140 425.34,170 406.34,200 392.34,225 381.94,245 376.74,255 385.74,255 390.94,245 401.34,225 415.34,200 434.34,170 449.23,140 467.08,110 483.28,80 488.68,70" fill="#76cb3b"/>
<polygon points="480.37,70 474.97,80 458.77,110 441.08,140 426.23,170 407.23,200 393.23,225 382.83,245 377.63,255 386.63,255 391.83,245 402.23,225 416.23,200 435.23,170 450.08,140 467.77,110 483.97,80 489.37,70" fill="#62cc45"/>
<polygon points="481.06,70 475.66,80 459.46,110 441.93,140 427.12,170 408.12,200 394.12,225 383.73,245 378.53,255 387.53,255 392.73,245 403.12,225 417.12,200 436.12,170 450.93,140 468.46,110 484.66,80 490.06,70" fill="#49cd4e"/>
<polygon points="481.74,70 476.34,80 460.14,110 442.78,140 428.02,170 409.02,200 395.02,225 384.62,245 379.42,255 388.42,255 393.62,245 404.02,225 418.02,200 437.02,170 451.78,140 469.14,110 485.34,80 490.74,70" fill="#22ce57"/>
<polygon points="482.43,70 477.03,80 460.83,110 443.78,140 428.91,170 409.91,200 395.91,225 385.51,245 380.31,255 389.31,255 394.51,245 404.91,225 418.91,200 437.91,170 452.78,140 469.83,110 486.03,80 491.43,70" fill="#00ce60"/>
<polygon points="483.22,70 477.82,80 461.62,110 444.81,140 429.8,170 410.8,200 396.8,225 386.4,245 381.2,255 390.2,255 395.4,245 405.8,225 419.8,200 438.8,170 453.81,140 470.62,110 486.82,80 492.22,70" fill="#00ce69"/>
<polygon points="484.03,70 478.63,80 462.43,110 445.83,140 430.7,170 411.7,200 397.7,225 387.3,245 382.1,255 391.1,255 396.3,245 406.7,225 420.7,200 439.7,170 454.83,140 471.43,110 487.63,80 493.03,70" fill="#00ce71"/>
<polygon points="484.83,70 479.43,80 463.23,110 446.85,140 431.59,170 412.59,200 398.59,225 388.19,245 382.99,255 391.99,255 397.19,245 407.59,225 421.59,200 440.59,170 455.85,140 472.23,110 488.43,80 493.83,70" fill="#00cd79"/>
<polygon points="485.63,70 480.23,80 464.03,110 447.88,140 432.48,170 413.48,200 399.48,225 389.08,245 383.88,255 392.88,255 398.08,245 408.48,225 422.48,200 441.48,170 456.88,140 473.03,110 489.23,80 494.63,70" fill="#00cd80"/>
<polygon points="486.44,70 481.04,80 464.84,110 448.9,140 433.38,170 414.38,200 400.38,225 389.98,245 384.78,255 393.78,255 398.98,245 409.38,225 423.38,200 442.38,170 457.9,140 473.84,110 490.04,80 495.44,70" fill="#00cc88"/>
<polygon points="487.24,70 481.84,80 465.64,110 449.85,140 434.27,170 415.27,200 401.27,225 390.87,245 385.67,255 394.67,255 399.87,245 410.27,225 424.27,200 443.27,170 458.85,140 474.64,110 490.84,80 496.24,70" fill="#00cb8e"/>
<polygon points="488.04,70 482.64,80 466.44,110 450.81,140 435.16,170 416.16,200 402.16,225 391.76,245 386.56,255 395.56,255 400.76,245 411.16,225 425.16,200 444.16,170 459.81,140 475.44,110 491.64,80 497.04,70" fill="#00c995"/>
<polygon points="488.8,70 483.4,80 467.2,110 451.76,140 436.05,170 417.05,200 403.05,225 392.65,245 387.45,255 396.45,255 401.65,245 412.05,225 426.05,200 445.05,170 460.76,140 476.2,110 492.4,80 497.8,70" fill="#00c89b"/>
<polygon points="489.57,70 484.17,80 467.97,110 452.71,140 436.95,170 417.95,200 403.95,225 393.55,245 388.35,255 397.35,255 402.55,245 412.95,225 426.95,200 445.95,170 461.71,140 476.97,110 493.17,80 498.57,70" fill="#00c7a1"/>
<polygon points="490.33,70 484.93,80 468.73,110 453.67,140 437.84,170 418.84,200 404.84,225 394.44,245 389.24,255 398.24,255 403.44,245 413.84,225 427.84,200 446.84,170 462.67,140 477.73,110 493.93,80 499.33,70" fill="#00c5a6"/>
<polygon points="491.09,70 485.69,80 469.49,110 454.62,140 438.73,170 419.73,200 405.73,225 395.33,245 390.13,255 399.13,255 404.33,245 414.73,225 428.73,200 447.73,170 463.62,140 478.49,110 494.69,80 500.09,70" fill="#00c4ab"/>
<polygon points="491.86,70 486.46,80 470.26,110 455.56,140 439.62,170 420.62,200 406.62,225 396.23,245 391.03,255 400.03,255 405.23,245 415.62,225 429.62,200 448.62,170 464.56,140 479.26,110 495.46,80 500.86,70" fill="#00c2b1"/>
<polygon points="492.51,70 487.11,80 470.91,110 456.49,140 440.52,170 421.52,200 407.52,225 397.12,245 391.92,255 400.92,255 406.12,245 416.52,225 430.52,200 449.52,170 465.49,140 479.91,110 496.11,80 501.51,70" fill="#00c1b5"/>
<polygon points="493,70 487.6,80 471.4,110 457.43,140 441.54,170 422.41,200 408.41,225 398.01,245 392.81,255 401.81,255 407.01,245 417.41,225 431.41,200 450.54,170 466.43,140 480.4,110 496.6,80 502,70" fill="#00c0ba"/>
<polygon points="493.49,70 488.09,80 471.89,110 458.37,140 442.7,170 423.3,200 409.3,225 398.9,245 393.7,255 402.7,255 407.9,245 418.3,225 432.3,200 451.7,170 467.37,140 480.89,110 497.09,80 502.49,70" fill="#00bebf"/>
<polygon points="493.98,70 488.58,80 472.38,110 459.31,140 443.87,170 424.2,200 410.2,225 399.8,245 394.6,255 403.6,255 408.8,245 419.2,225 433.2,200 452.87,170 468.31,140 481.38,110 497.58,80 502.98,70" fill="#00bcc4"/>
<polygon points="494.47,70 489.07,80 472.87,110 460.53,140 445.04,170 425.09,200 411.09,225 400.69,245 395.49,255 404.49,255 409.69,245 420.09,225 434.09,200 454.04,170 469.53,140 481.87,110 498.07,80 503.47,70" fill="#00bbc8"/>
<polygon points="494.96,70 489.56,80 473.36,110 461.96,140 446.2,170 425.98,200 411.98,225 401.58,245 396.38,255 405.38,255 410.58,245 420.98,225 434.98,200 455.2,170 470.96,140 482.36,110 498.56,80 503.96,70" fill="#00b9cd"/>
<polygon points="495.45,70 490.05,80 473.85,110 463.4,140 447.34,170 426.88,200 412.88,225 402.48,245 397.28,255 406.28,255 411.48,245 421.88,225 435.88,200 456.34,170 472.4,140 482.85,110 499.05,80 504.45,70" fill="#00b7d1"/>
<polygon points="496.15,70 490.75,80 474.55,110 464.83,140 448.47,170 427.77,200 413.77,225 403.37,245 398.17,255 407.17,255 412.37,245 422.77,225 436.77,200 457.47,170 473.83,140 483.55,110 499.75,80 505.15,70" fill="#00b5d5"/>
<polygon points="496.93,70 491.53,80 475.33,110 465.87,140 449.59,170 428.66,200 414.66,225 404.26,245 399.06,255 408.06,255 413.26,245 423.66,225 437.66,200 458.59,170 474.87,140 484.33,110 500.53,80 505.93,70" fill="#00b2d9"/>
<polygon points="497.71,70 492.31,80 476.11,110 466.77,140 450.72,170 429.55,200 415.55,225 405.15,245 399.95,255 408.95,255 414.15,245 424.55,225 438.55,200 459.72,170 475.77,140 485.11,110 501.31,80 506.71,70" fill="#00b0dd"/>
<polygon points="498.49,70 493.09,80 476.89,110 467.67,140 451.84,170 430.45,200 416.45,225 406.05,245 400.85,255 409.85,255 415.05,245 425.45,225 439.45,200 460.84,170 476.67,140 485.89,110 502.09,80 507.49,70" fill="#00ade0"/>
<polygon points="499.27,70 493.87,80 477.67,110 468.58,140 452.99,170 431.34,200 417.34,225 406.94,245 401.74,255 410.74,255 415.94,245 426.34,225 440.34,200 461.99,170 477.58,140 486.67,110 502.87,80 508.27,70" fill="#00aae2"/>
<polygon points="500.05,70 494.65,80 478.45,110 469.48,140 454.13,170 432.23,200 418.23,225 407.83,245 402.63,255 411.63,255 416.83,245 427.23,225 441.23,200 463.13,170 478.48,140 487.45,110 503.65,80 509.05,70" fill="#00a7e5"/>
<polygon points="500.83,70 495.43,80 479.23,110 470.38,140 455.28,170 433.12,200 419.12,225 408.73,245 403.53,255 412.53,255 417.73,245 428.12,225 442.12,200 464.28,170 479.38,140 488.23,110 504.43,80 509.83,70" fill="#00a4e6"/>
<polygon points="501.61,70 496.21,80 480.01,110 470.99,140 456.42,170 434.02,200 420.02,225 409.62,245 404.42,255 413.42,255 418.62,245 429.02,225 443.02,200 465.42,170 479.99,140 489.01,110 505.21,80 510.61,70" fill="#00a1e8"/>
<polygon points="502.39,70 496.99,80 480.79,110 471.59,140 457.57,170 434.91,200 420.91,225 410.51,245 405.31,255 414.31,255 419.51,245 429.91,225 443.91,200 466.57,170 480.59,140 489.79,110 505.99,80 511.39,70" fill="#009eea"/>
<polygon points="503.17,70 497.77,80 481.57,110 472.18,140 458.71,170 435.8,200 421.8,225 411.4,245 406.2,255 415.2,255 420.4,245 430.8,225 444.8,200 467.71,170 481.18,140 490.57,110 506.77,80 512.17,70" fill="#009bec"/>
<polygon points="503.95,70 498.55,80 482.35,110 472.78,140 459.86,170 436.7,200 422.7,225 412.3,245 407.1,255 416.1,255 421.3,245 431.7,225 445.7,200 468.86,170 481.78,140 491.35,110 507.55,80 512.95,70" fill="#0098ee"/>
<polygon points="504.73,70 499.33,80 483.13,110 473.38,140 461.01,170 437.59,200 423.59,225 413.19,245 407.99,255 416.99,255 422.19,245 432.59,225 446.59,200 470.01,170 482.38,140 492.13,110 508.33,80 513.73,70" fill="#0095f1"/>
<polygon points="505.51,70 500.11,80 483.91,110 473.98,140 462.15,170 438.48,200 424.48,225 414.08,245 408.88,255 417.88,255 423.08,245 433.48,225 447.48,200 471.15,170 482.98,140 492.91,110 509.11,80 514.51,70" fill="#0091f3"/>
<polygon points="506.29,70 500.89,80 484.69,110 474.58,140 463.24,170 439.38,200 425.38,225 414.98,245 409.78,255 418.78,255 423.98,245 434.38,225 448.38,200 472.24,170 483.58,140 493.69,110 509.89,80 515.29,70" fill="#008ef6"/>
<polygon points="507.07,70 501.67,80 485.47,110 475.13,140 464.18,170 440.15,200 426.22,225 415.82,245 410.62,255 419.62,255 424.82,245 435.22,225 449.15,200 473.18,170 484.13,140 494.47,110 510.67,80 516.07,70" fill="#008af9"/>
<polygon points="507.85,70 502.45,80 486.25,110 475.56,140 465.12,170 440.65,200 426.95,225 416.55,245 411.35,255 420.35,255 425.55,245 435.95,225 449.65,200 474.12,170 484.56,140 495.25,110 511.45,80 516.85,70" fill="#0086fb"/>
<polygon points="508.63,70 503.23,80 487.03,110 476,140 466.06,170 441.16,200 427.68,225 417.28,245 412.08,255 421.08,255 426.28,245 436.68,225 450.16,200 475.06,170 485,140 496.03,110 512.23,80 517.63,70" fill="#0083fd"/>
<polygon points="509.41,70 504.01,80 487.81,110 476.43,140 466.99,170 441.66,200 428.41,225 418.01,245 412.81,255 421.81,255 427.01,245 437.41,225 450.66,200 475.99,170 485.43,140 496.81,110 513.01,80 518.41,70" fill="#007fff"/>
<polygon points="510.19,70 504.79,80 488.59,110 476.87,140 467.93,170 442.16,200 429.14,225 418.74,245 413.54,255 422.54,255 427.74,245 438.14,225 451.16,200 476.93,170 485.87,140 497.59,110 513.79,80 519.19,70" fill="#007bff"/>
<polygon points="510.97,70 505.57,80 489.37,110 477.3,140 468.65,170 442.67,200 429.86,225 419.46,245 414.26,255 423.26,255 428.46,245 438.86,225 451.67,200 477.65,170 486.3,140 498.37,110 514.57,80 519.97,70" fill="#0077ff"/>
<polygon points="511.75,70 506.35,80 490.15,110 477.84,140 469.16,170 443.17,200 430.59,225 420.19,245 414.99,255 423.99,255 429.19,245 439.59,225 452.17,200 478.16,170 486.84,140 499.15,110 515.35,80 520.75,70" fill="#0072ff"/>
<polygon points="512.53,70 507.13,80 490.93,110 478.47,140 469.67,170 443.68,200 431.32,225 420.92,245 415.72,255 424.72,255 429.92,245 440.32,225 452.68,200 478.67,170 487.47,140 499.93,110 516.13,80 521.53,70" fill="#086eff"/>
<polygon points="513.31,70 507.91,80 491.71,110 479.1,140 470.18,170 444.18,200 432.05,225 421.65,245 416.45,255 425.45,255 430.65,245 441.05,225 453.18,200 479.18,170 488.1,140 500.71,110 516.91,80 522.31,70" fill="#1f6aff"/>
<polygon points="514.09,70 508.69,80 492.49,110 479.73,140 470.69,170 444.68,200 432.78,225 422.38,245 417.18,255 426.18,255 431.38,245 441.78,225 453.68,200 479.69,170 488.73,140 501.49,110 517.69,80 523.09,70" fill="#2966ff"/>
<polygon points="514.87,70 509.47,80 493.27,110 480.36,140 471.19,170 445.19,200 433.51,225 423.11,245 417.91,255 426.91,255 432.11,245 442.51,225 454.19,200 480.19,170 489.36,140 502.27,110 518.47,80 523.87,70" fill="#3162ff"/>
<polygon points="515.65,70 510.25,80 494.05,110 480.99,140 471.7,170 445.69,200 434.24,225 423.84,245 418.64,255 427.64,255 432.84,245 443.24,225 454.69,200 480.7,170 489.99,140 503.05,110 519.25,80 524.65,70" fill="#365eff"/>
<polygon points="516.43,70 511.03,80 494.83,110 481.62,140 472.21,170 446.36,200 434.97,225 424.57,245 419.37,255 428.37,255 433.57,245 443.97,225 455.36,200 481.21,170 490.62,140 503.83,110 520.03,80 525.43,70" fill="#3a5afe"/>
<polygon points="517.21,70 511.81,80 495.61,110 482.25,140 472.63,170 447.07,200 435.7,225 425.3,245 420.1,255 429.1,255 434.3,245 444.7,225 456.07,200 481.63,170 491.25,140 504.61,110 520.81,80 526.21,70" fill="#3e56fc"/>
<polygon points="517.99,70 512.59,80 496.39,110 482.87,140 473.03,170 447.79,200 436.43,225 426.03,245 420.83,255 429.83,255 435.03,245 445.43,225 456.79,200 482.03,170 491.87,140 505.39,110 521.59,80 526.99,70" fill="#4053f9"/>
<polygon points="518.77,70 513.37,80 497.17,110 483.5,140 473.43,170 448.51,200 437.16,225 426.76,245 421.56,255 430.56,255 435.76,245 446.16,225 457.51,200 482.43,170 492.5,140 506.17,110 522.37,80 527.77,70" fill="#424ff7"/>
<polygon points="519.55,70 514.15,80 497.95,110 484.13,140 473.83,170 449.22,200 437.89,225 427.49,245 422.29,255 431.29,255 436.49,245 446.89,225 458.22,200 482.83,170 493.13,140 506.95,110 523.15,80 528.55,70" fill="#444bf4"/>
<polygon points="520.33,70 514.93,80 498.73,110 484.76,140 474.24,170 449.94,200 438.61,225 428.21,245 423.01,255 432.01,255 437.21,245 447.61,225 458.94,200 483.24,170 493.76,140 507.73,110 523.93,80 529.33,70" fill="#4647f1"/>
<polygon points="521.11,70 515.71,80 499.51,110 485.39,140 474.64,170 450.66,200 439.34,225 428.94,245 423.74,255 432.74,255 437.94,245 448.34,225 459.66,200 483.64,170 494.39,140 508.51,110 524.71,80 530.11,70" fill="#4743ed"/>
<polygon points="521.89,70 516.49,80 500.29,110 486.02,140 475.04,170 451.41,200 440.06,225 429.66,245 424.46,255 433.46,255 438.66,245 449.06,225 460.41,200 484.04,170 495.02,140 509.29,110 525.49,80 530.89,70" fill="#483fe9"/>
<polygon points="522.67,70 517.27,80 501.07,110 486.65,140 475.44,170 452.54,200 440.69,225 430.29,245 425.09,255 434.09,255 439.29,245 449.69,225 461.54,200 484.44,170 495.65,140 510.07,110 526.27,80 531.67,70" fill="#483be5"/>
<polygon points="523.45,70 518.05,80 501.85,110 487.28,140 475.84,170 453.66,200 441.31,225 430.91,245 425.71,255 434.71,255 439.91,245 450.31,225 462.66,200 484.84,170 496.28,140 510.85,110 527.05,80 532.45,70" fill="#4837df"/>
<polygon points="524.23,70 518.83,80 502.63,110 487.91,140 476.24,170 454.79,200 441.94,225 431.54,245 426.34,255 435.34,255 440.54,245 450.94,225 463.79,200 485.24,170 496.91,140 511.63,110 527.83,80 533.23,70" fill="#4833da"/>
<polygon points="525.01,70 519.61,80 503.41,110 488.54,140 476.64,170 455.91,200 442.56,225 432.16,245 426.96,255 435.96,255 441.16,245 451.56,225 464.91,200 485.64,170 497.54,140 512.41,110 528.61,80 534.01,70" fill="#4830d3"/>
<polygon points="525.79,70 520.39,80 504.19,110 489.17,140 477.04,170 456.97,200 443.19,225 432.79,245 427.59,255 436.59,255 441.79,245 452.19,225 465.97,200 486.04,170 498.17,140 513.19,110 529.39,80 534.79,70" fill="#472dcb"/>
<polygon points="526.57,70 521.17,80 504.97,110 489.8,140 477.49,170 457.86,200 443.99,225 433.59,245 428.39,255 437.39,255 442.59,245 452.99,225 466.86,200 486.49,170 498.8,140 513.97,110 530.17,80 535.57,70" fill="#462ac4"/>
<polygon points="527.35,70 521.95,80 505.75,110 490.43,140 478.07,170 458.76,200 445.14,225 434.74,245 429.54,255 438.54,255 443.74,245 454.14,225 467.76,200 487.07,170 499.43,140 514.75,110 530.95,80 536.35,70" fill="#4527bd"/>
<polygon points="528.13,70 522.73,80 506.53,110 491.06,140 478.64,170 459.66,200 446.28,225 435.88,245 430.68,255 439.68,255 444.88,245 455.28,225 468.66,200 487.64,170 500.06,140 515.53,110 531.73,80 537.13,70" fill="#4424b5"/>
<polygon points="528.91,70 523.51,80 507.31,110 491.69,140 479.21,170 460.55,200 447.43,225 437.03,245 431.83,255 440.83,255 446.03,245 456.43,225 469.55,200 488.21,170 500.69,140 516.31,110 532.51,80 537.91,70" fill="#4321ad"/>
</g>
<line x1="31.5" y1="189.7" x2="31.5" y2="54.9" stroke="#606060" stroke-width="0.9"/>
<line x1="31.5" y1="189.7" x2="85.6" y2="266.3" stroke="#606060" stroke-width="0.9"/>
<line x1="85.6" y1="266.3" x2="169.5" y2="217.5" stroke="#606060" stroke-width="0.9"/>
<line x1="85.6" y1="266.3" x2="87.33" y2="268.75" stroke="#606060" stroke-width="0.7"/>
<line x1="85.6" y1="266.3" x2="83.01" y2="267.81" stroke="#606060" stroke-width="0.7"/>
<line x1="106.57" y1="254.1" x2="108.31" y2="256.55" stroke="#606060" stroke-width="0.7"/>
<line x1="72.07" y1="247.15" x2="69.48" y2="248.66" stroke="#606060" stroke-width="0.7"/>
<line x1="127.55" y1="241.9" x2="129.28" y2="244.35" stroke="#606060" stroke-width="0.7"/>
<line x1="58.55" y1="228" x2="55.96" y2="229.51" stroke="#606060" stroke-width="0.7"/>
<line x1="148.53" y1="229.7" x2="150.26" y2="232.15" stroke="#606060" stroke-width="0.7"/>
<line x1="45.02" y1="208.85" x2="42.43" y2="210.36" stroke="#606060" stroke-width="0.7"/>
<line x1="169.5" y1="217.5" x2="171.23" y2="219.95" stroke="#606060" stroke-width="0.7"/>
<line x1="31.5" y1="189.7" x2="28.91" y2="191.21" stroke="#606060" stroke-width="0.7"/>
<line x1="31.5" y1="189.7" x2="29.77" y2="187.25" stroke="#606060" stroke-width="0.7"/>
<line x1="31.5" y1="176.22" x2="29.77" y2="173.77" stroke="#606060" stroke-width="0.7"/>
<line x1="31.5" y1="162.74" x2="29.77" y2="160.29" stroke="#606060" stroke-width="0.7"/>
<line x1="31.5" y1="149.26" x2="29.77" y2="146.81" stroke="#606060" stroke-width="0.7"/>
<line x1="31.5" y1="135.78" x2="29.77" y2="133.33" stroke="#606060" stroke-width="0.7"/>
<line x1="31.5" y1="122.3" x2="29.77" y2="119.85" stroke="#606060" stroke-width="0.7"/>
<line x1="31.5" y1="108.82" x2="29.77" y2="106.37" stroke="#606060" stroke-width="0.7"/>
<line x1="31.5" y1="95.34" x2="29.77" y2="92.89" stroke="#606060" stroke-width="0.7"/>
<line x1="31.5" y1="81.86" x2="29.77" y2="79.41" stroke="#606060" stroke-width="0.7"/>
<line x1="31.5" y1="68.38" x2="29.77" y2="65.93" stroke="#606060" stroke-width="0.7"/>
<line x1="31.5" y1="54.9" x2="29.77" y2="52.45" stroke="#606060" stroke-width="0.7"/>
<line x1="215.3" y1="227.6" x2="215.3" y2="83.5" stroke="#606060" stroke-width="0.9"/>
<line x1="215.3" y1="227.6" x2="307.1" y2="266.2" stroke="#606060" stroke-width="0.9"/>
<line x1="307.1" y1="266.2" x2="353" y2="189.4" stroke="#606060" stroke-width="0.9"/>
<line x1="307.1" y1="266.2" x2="309.87" y2="267.36" stroke="#606060" stroke-width="0.7"/>
<line x1="307.1" y1="266.2" x2="305.56" y2="268.78" stroke="#606060" stroke-width="0.7"/>
<line x1="318.58" y1="247" x2="321.34" y2="248.16" stroke="#606060" stroke-width="0.7"/>
<line x1="284.15" y1="256.55" x2="282.61" y2="259.13" stroke="#606060" stroke-width="0.7"/>
<line x1="330.05" y1="227.8" x2="332.82" y2="228.96" stroke="#606060" stroke-width="0.7"/>
<line x1="261.2" y1="246.9" x2="259.66" y2="249.48" stroke="#606060" stroke-width="0.7"/>
<line x1="341.52" y1="208.6" x2="344.29" y2="209.76" stroke="#606060" stroke-width="0.7"/>
<line x1="238.25" y1="237.25" x2="236.71" y2="239.83" stroke="#606060" stroke-width="0.7"/>
<line x1="353" y1="189.4" x2="355.77" y2="190.56" stroke="#606060" stroke-width="0.7"/>
<line x1="215.3" y1="227.6" x2="213.76" y2="230.18" stroke="#606060" stroke-width="0.7"/>
<line x1="215.3" y1="227.6" x2="211.61" y2="226.05" stroke="#606060" stroke-width="0.7"/>
<line x1="215.3" y1="213.19" x2="211.61" y2="211.64" stroke="#606060" stroke-width="0.7"/>
<line x1="215.3" y1="198.78" x2="211.61" y2="197.23" stroke="#606060" stroke-width="0.7"/>
<line x1="215.3" y1="184.37" x2="211.61" y2="182.82" stroke="#606060" stroke-width="0.7"/>
<line x1="215.3" y1="169.96" x2="211.61" y2="168.41" stroke="#606060" stroke-width="0.7"/>
<line x1="215.3" y1="155.55" x2="211.61" y2="154" stroke="#606060" stroke-width="0.7"/>
<line x1="215.3" y1="141.14" x2="211.61" y2="139.59" stroke="#606060" stroke-width="0.7"/>
<line x1="215.3" y1="126.73" x2="211.61" y2="125.18" stroke="#606060" stroke-width="0.7"/>
<line x1="215.3" y1="112.32" x2="211.61" y2="110.77" stroke="#606060" stroke-width="0.7"/>
<line x1="215.3" y1="97.91" x2="211.61" y2="96.36" stroke="#606060" stroke-width="0.7"/>
<line x1="215.3" y1="83.5" x2="211.61" y2="81.95" stroke="#606060" stroke-width="0.7"/>
<line x1="399" y1="228.9" x2="399" y2="80" stroke="#606060" stroke-width="0.9"/>
<line x1="399" y1="228.9" x2="490.2" y2="266.2" stroke="#606060" stroke-width="0.9"/>
<line x1="490.2" y1="266.2" x2="536.7" y2="192.35" stroke="#606060" stroke-width="0.9"/>
<line x1="490.2" y1="266.2" x2="492.98" y2="267.34" stroke="#606060" stroke-width="0.7"/>
<line x1="490.2" y1="266.2" x2="488.6" y2="268.74" stroke="#606060" stroke-width="0.7"/>
<line x1="501.82" y1="247.74" x2="504.6" y2="248.87" stroke="#606060" stroke-width="0.7"/>
<line x1="467.4" y1="256.88" x2="465.8" y2="259.41" stroke="#606060" stroke-width="0.7"/>
<line x1="513.45" y1="229.27" x2="516.23" y2="230.41" stroke="#606060" stroke-width="0.7"/>
<line x1="444.6" y1="247.55" x2="443" y2="250.09" stroke="#606060" stroke-width="0.7"/>
<line x1="525.08" y1="210.81" x2="527.85" y2="211.95" stroke="#606060" stroke-width="0.7"/>
<line x1="421.8" y1="238.22" x2="420.2" y2="240.76" stroke="#606060" stroke-width="0.7"/>
<line x1="536.7" y1="192.35" x2="539.48" y2="193.49" stroke="#606060" stroke-width="0.7"/>
<line x1="399" y1="228.9" x2="397.4" y2="231.44" stroke="#606060" stroke-width="0.7"/>
<line x1="399" y1="228.9" x2="395.3" y2="227.39" stroke="#606060" stroke-width="0.7"/>
<line x1="399" y1="204.08" x2="395.3" y2="202.57" stroke="#606060" stroke-width="0.7"/>
<line x1="399" y1="179.27" x2="395.3" y2="177.75" stroke="#606060" stroke-width="0.7"/>
<line x1="399" y1="154.45" x2="395.3" y2="152.94" stroke="#606060" stroke-width="0.7"/>
<line x1="399" y1="129.63" x2="395.3" y2="128.12" stroke="#606060" stroke-width="0.7"/>
<line x1="399" y1="104.82" x2="395.3" y2="103.3" stroke="#606060" stroke-width="0.7"/>
<line x1="399" y1="80" x2="395.3" y2="78.49" stroke="#606060" stroke-width="0.7"/>
<text x="28" y="187.8" font-size="5.9" text-anchor="end" fill="#444444">0</text>
<text x="28" y="174.32" font-size="5.9" text-anchor="end" fill="#444444">0.05</text>
<text x="28" y="160.84" font-size="5.9" text-anchor="end" fill="#444444">0.1</text>
<text x="28" y="147.36" font-size="5.9" text-anchor="end" fill="#444444">0.15</text>
<text x="28" y="133.88" font-size="5.9" text-anchor="end" fill="#444444">0.2</text>
<text x="28" y="120.4" font-size="5.9" text-anchor="end" fill="#444444">0.25</text>
<text x="28" y="106.92" font-size="5.9" text-anchor="end" fill="#444444">0.3</text>
<text x="28" y="93.44" font-size="5.9" text-anchor="end" fill="#444444">0.35</text>
<text x="28" y="79.96" font-size="5.9" text-anchor="end" fill="#444444">0.4</text>
<text x="28" y="66.48" font-size="5.9" text-anchor="end" fill="#444444">0.45</text>
<text x="28" y="53" font-size="5.9" text-anchor="end" fill="#444444">0.5</text>
<text x="80.7" y="275.3" font-size="5.9" text-anchor="end" fill="#444444">-2</text>
<text x="67.17" y="256.15" font-size="5.9" text-anchor="end" fill="#444444">-1</text>
<text x="53.65" y="237" font-size="5.9" text-anchor="end" fill="#444444">0</text>
<text x="40.12" y="217.85" font-size="5.9" text-anchor="end" fill="#444444">1</text>
<text x="26.6" y="198.7" font-size="5.9" text-anchor="end" fill="#444444">2</text>
<text x="90.9" y="276.7" font-size="5.9" text-anchor="middle" fill="#444444">-2</text>
<text x="111.87" y="264.5" font-size="5.9" text-anchor="middle" fill="#444444">-1</text>
<text x="132.85" y="252.3" font-size="5.9" text-anchor="middle" fill="#444444">0</text>
<text x="153.83" y="240.1" font-size="5.9" text-anchor="middle" fill="#444444">1</text>
<text x="174.8" y="227.9" font-size="5.9" text-anchor="middle" fill="#444444">2</text>
<text x="50.2" y="264.1" font-size="6.3" fill="#444444">x<tspan font-size="5.04" dx="0.3" dy="2.3">2</tspan></text>
<text x="121.7" y="270.8" font-size="6.3" fill="#444444">x<tspan font-size="5.04" dx="0.3" dy="2.3">1</tspan></text>
<text transform="translate(11.3 122.6) rotate(-90)" font-size="6.3" text-anchor="middle" fill="#444444">desirability D</text>
<text x="209.3" y="227" font-size="5.9" text-anchor="end" fill="#444444">0</text>
<text x="209.3" y="212.59" font-size="5.9" text-anchor="end" fill="#444444">0.05</text>
<text x="209.3" y="198.18" font-size="5.9" text-anchor="end" fill="#444444">0.1</text>
<text x="209.3" y="183.77" font-size="5.9" text-anchor="end" fill="#444444">0.15</text>
<text x="209.3" y="169.36" font-size="5.9" text-anchor="end" fill="#444444">0.2</text>
<text x="209.3" y="154.95" font-size="5.9" text-anchor="end" fill="#444444">0.25</text>
<text x="209.3" y="140.54" font-size="5.9" text-anchor="end" fill="#444444">0.3</text>
<text x="209.3" y="126.13" font-size="5.9" text-anchor="end" fill="#444444">0.35</text>
<text x="209.3" y="111.72" font-size="5.9" text-anchor="end" fill="#444444">0.4</text>
<text x="209.3" y="97.31" font-size="5.9" text-anchor="end" fill="#444444">0.45</text>
<text x="209.3" y="82.9" font-size="5.9" text-anchor="end" fill="#444444">0.5</text>
<text x="302.1" y="277.1" font-size="5.9" text-anchor="middle" fill="#444444">-2</text>
<text x="279.15" y="267.45" font-size="5.9" text-anchor="middle" fill="#444444">-1</text>
<text x="256.2" y="257.8" font-size="5.9" text-anchor="middle" fill="#444444">0</text>
<text x="233.25" y="248.15" font-size="5.9" text-anchor="middle" fill="#444444">1</text>
<text x="210.3" y="238.5" font-size="5.9" text-anchor="middle" fill="#444444">2</text>
<text x="312.85" y="274.5" font-size="5.9" text-anchor="start" fill="#444444">-2</text>
<text x="324.33" y="255.3" font-size="5.9" text-anchor="start" fill="#444444">-1</text>
<text x="335.8" y="236.1" font-size="5.9" text-anchor="start" fill="#444444">0</text>
<text x="347.27" y="216.9" font-size="5.9" text-anchor="start" fill="#444444">1</text>
<text x="358.75" y="197.7" font-size="5.9" text-anchor="start" fill="#444444">2</text>
<text x="262.2" y="274" font-size="6.3" fill="#444444">x<tspan font-size="5.04" dx="0.3" dy="2.3">3</tspan></text>
<text x="334.2" y="264.2" font-size="6.3" fill="#444444">x<tspan font-size="5.04" dx="0.3" dy="2.3">1</tspan></text>
<text transform="translate(194.6 155.7) rotate(-90)" font-size="6.3" text-anchor="middle" fill="#444444">desirability D</text>
<text x="393.2" y="228.6" font-size="5.9" text-anchor="end" fill="#444444">0</text>
<text x="393.2" y="203.78" font-size="5.9" text-anchor="end" fill="#444444">0.1</text>
<text x="393.2" y="178.97" font-size="5.9" text-anchor="end" fill="#444444">0.2</text>
<text x="393.2" y="154.15" font-size="5.9" text-anchor="end" fill="#444444">0.3</text>
<text x="393.2" y="129.33" font-size="5.9" text-anchor="end" fill="#444444">0.4</text>
<text x="393.2" y="104.52" font-size="5.9" text-anchor="end" fill="#444444">0.5</text>
<text x="393.2" y="79.7" font-size="5.9" text-anchor="end" fill="#444444">0.6</text>
<text x="485.1" y="277.2" font-size="5.9" text-anchor="middle" fill="#444444">-2</text>
<text x="462.3" y="267.88" font-size="5.9" text-anchor="middle" fill="#444444">-1</text>
<text x="439.5" y="258.55" font-size="5.9" text-anchor="middle" fill="#444444">0</text>
<text x="416.7" y="249.22" font-size="5.9" text-anchor="middle" fill="#444444">1</text>
<text x="393.9" y="239.9" font-size="5.9" text-anchor="middle" fill="#444444">2</text>
<text x="495.95" y="274.5" font-size="5.9" text-anchor="start" fill="#444444">-2</text>
<text x="507.57" y="256.04" font-size="5.9" text-anchor="start" fill="#444444">-1</text>
<text x="519.2" y="237.57" font-size="5.9" text-anchor="start" fill="#444444">0</text>
<text x="530.83" y="219.11" font-size="5.9" text-anchor="start" fill="#444444">1</text>
<text x="542.45" y="200.65" font-size="5.9" text-anchor="start" fill="#444444">2</text>
<text x="445.3" y="274" font-size="6.3" fill="#444444">x<tspan font-size="5.04" dx="0.3" dy="2.3">3</tspan></text>
<text x="517.1" y="265.1" font-size="6.3" fill="#444444">x<tspan font-size="5.04" dx="0.3" dy="2.3">2</tspan></text>
<text transform="translate(380.7 154.4) rotate(-90)" font-size="6.3" text-anchor="middle" fill="#444444">desirability D</text>
<text class="cap" transform="translate(80.9 318.3) scale(0.93 1)" font-size="16.4" text-anchor="middle" fill="#1a1a1a">(<tspan font-weight="bold">a</tspan>)</text>
<text class="cap" transform="translate(281 318.3) scale(0.93 1)" font-size="16.4" text-anchor="middle" fill="#1a1a1a">(<tspan font-weight="bold">b</tspan>)</text>
<text class="cap" transform="translate(478 318.3) scale(0.93 1)" font-size="16.4" text-anchor="middle" fill="#1a1a1a">(<tspan font-weight="bold">c</tspan>)</text>
</svg>
</body></html>
